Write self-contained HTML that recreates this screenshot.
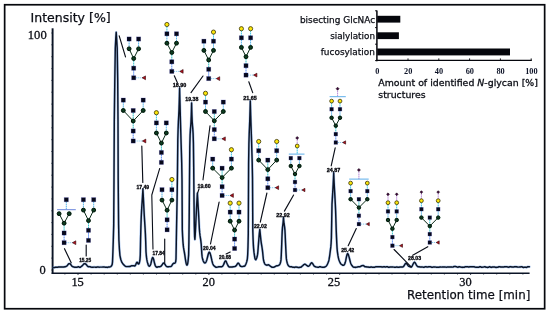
<!DOCTYPE html>
<html><head><meta charset="utf-8"><title>N-glycan chromatogram</title>
<style>html,body{margin:0;padding:0;background:#fff}body{width:550px;height:314px;overflow:hidden}svg{display:block;filter:blur(0.28px)}</style>
</head><body>
<svg width="550" height="314" viewBox="0 0 550 314">
<rect x="0" y="0" width="550" height="314" fill="#ffffff"/>
<rect x="4.65" y="4.75" width="540" height="304" fill="#ffffff" stroke="#05070c" stroke-width="1.7"/>
<line x1="52.6" y1="28.3" x2="52.6" y2="274" stroke="#0b1426" stroke-width="1.9"/>
<line x1="51.7" y1="273.3" x2="529.6" y2="273.3" stroke="#0b1426" stroke-width="1.6"/>
<path d="M64.9 273.3v1.2 M78.0 273.3v1.7 M91.1 273.3v1.2 M104.2 273.3v1.2 M117.3 273.3v1.2 M130.3 273.3v1.2 M143.4 273.3v1.2 M156.5 273.3v1.2 M169.6 273.3v1.2 M182.7 273.3v1.2 M195.8 273.3v1.2 M208.9 273.3v1.7 M221.9 273.3v1.2 M235.0 273.3v1.2 M248.1 273.3v1.2 M261.2 273.3v1.2 M274.3 273.3v1.2 M287.4 273.3v1.2 M300.4 273.3v1.2 M313.5 273.3v1.2 M326.6 273.3v1.2 M339.7 273.3v1.7 M352.8 273.3v1.2 M365.9 273.3v1.2 M379.0 273.3v1.2 M392.0 273.3v1.2 M405.1 273.3v1.2 M418.2 273.3v1.2 M431.3 273.3v1.2 M444.4 273.3v1.2 M457.5 273.3v1.2 M470.6 273.3v1.7 M483.6 273.3v1.2 M496.7 273.3v1.2 M509.8 273.3v1.2 M522.9 273.3v1.2" stroke="#0b1426" stroke-width="0.8" fill="none"/>
<path d="M52.6 270.0h-1.6 M52.6 258.1h-1.6 M52.6 246.3h-1.6 M52.6 234.4h-1.6 M52.6 222.6h-1.6 M52.6 210.8h-1.6 M52.6 198.9h-1.6 M52.6 187.1h-1.6 M52.6 175.2h-1.6 M52.6 163.3h-1.6 M52.6 151.5h-1.6 M52.6 139.7h-1.6 M52.6 127.8h-1.6 M52.6 115.9h-1.6 M52.6 104.1h-1.6 M52.6 92.2h-1.6 M52.6 80.4h-1.6 M52.6 68.6h-1.6 M52.6 56.7h-1.6 M52.6 44.8h-1.6 M52.6 33.0h-1.6" stroke="#0b1426" stroke-width="0.7" fill="none" opacity="0.7"/>
<path d="M53.6 267.6 L53.9 267.6 L54.2 267.5 L54.5 267.4 L54.8 267.4 L55.1 267.4 L55.4 267.3 L55.7 267.3 L56.0 267.2 L56.3 267.2 L56.6 267.2 L56.9 267.2 L57.2 267.3 L57.5 267.3 L57.8 267.2 L58.1 267.1 L58.4 267.0 L58.7 267.0 L59.0 267.0 L59.3 266.9 L59.6 266.9 L59.9 266.9 L60.2 266.9 L60.5 266.9 L60.8 266.9 L61.1 266.9 L61.4 266.9 L61.7 267.0 L62.0 267.0 L62.3 267.1 L62.6 267.1 L62.9 267.0 L63.2 267.0 L63.5 267.0 L63.8 267.0 L64.1 266.9 L64.4 266.9 L64.7 266.8 L65.0 266.8 L65.3 266.7 L65.6 266.6 L65.9 266.5 L66.2 266.4 L66.5 266.2 L66.8 266.0 L67.1 265.8 L67.4 265.4 L67.7 265.0 L68.0 264.6 L68.3 264.2 L68.6 263.9 L68.9 263.7 L69.2 263.6 L69.5 263.6 L69.8 263.6 L70.1 263.8 L70.4 264.1 L70.7 264.4 L71.0 264.9 L71.3 265.3 L71.6 265.7 L71.9 266.1 L72.2 266.3 L72.5 266.5 L72.8 266.7 L73.1 266.8 L73.4 266.9 L73.7 266.9 L74.0 267.0 L74.3 267.1 L74.6 267.2 L74.9 267.3 L75.2 267.3 L75.5 267.3 L75.8 267.3 L76.1 267.2 L76.4 267.2 L76.7 267.2 L77.0 267.2 L77.3 267.1 L77.6 267.0 L77.9 266.9 L78.2 266.8 L78.5 266.8 L78.8 266.9 L79.1 267.1 L79.4 267.2 L79.7 267.3 L80.0 267.4 L80.3 267.3 L80.6 267.1 L80.9 266.8 L81.2 266.5 L81.5 266.3 L81.8 266.1 L82.1 265.9 L82.4 265.6 L82.7 265.3 L83.0 264.9 L83.3 264.5 L83.6 264.2 L83.9 263.9 L84.2 263.7 L84.5 263.7 L84.8 263.7 L85.1 263.8 L85.4 263.9 L85.7 264.1 L86.0 264.3 L86.3 264.6 L86.6 265.0 L86.9 265.4 L87.2 265.8 L87.5 266.1 L87.8 266.4 L88.1 266.6 L88.4 266.6 L88.7 266.7 L89.0 266.6 L89.3 266.6 L89.6 266.6 L89.9 266.7 L90.2 266.8 L90.5 266.9 L90.8 267.1 L91.1 267.1 L91.4 267.1 L91.7 267.2 L92.0 267.2 L92.3 267.2 L92.6 267.2 L92.9 267.2 L93.2 267.2 L93.5 267.1 L93.8 267.1 L94.1 267.1 L94.4 267.1 L94.7 267.1 L95.0 267.1 L95.3 267.2 L95.6 267.3 L95.9 267.3 L96.2 267.3 L96.5 267.2 L96.8 267.1 L97.1 267.0 L97.4 266.9 L97.7 266.9 L98.0 266.9 L98.3 267.0 L98.6 267.1 L98.9 267.1 L99.2 267.2 L99.5 267.1 L99.8 267.1 L100.1 267.1 L100.4 267.1 L100.7 267.1 L101.0 267.1 L101.3 267.1 L101.6 267.1 L101.9 267.1 L102.2 267.1 L102.5 267.1 L102.8 267.0 L103.1 267.0 L103.4 267.0 L103.7 267.0 L104.0 267.0 L104.3 267.0 L104.6 267.1 L104.9 267.1 L105.2 267.2 L105.5 267.3 L105.8 267.3 L106.1 267.3 L106.4 267.3 L106.7 267.3 L107.0 267.4 L107.3 267.4 L107.6 267.3 L107.9 267.2 L108.2 267.1 L108.5 267.0 L108.8 267.0 L109.1 267.0 L109.4 267.0 L109.6 267.0 L110.7 266.6 L111.6 265.8 L112.2 264.4 L112.5 262.0 L112.9 252.0 L113.3 240.0 L113.7 225.0 L114.0 180.0 L114.3 120.0 L114.8 80.0 L115.3 48.0 L115.8 38.0 L116.2 32.3 L116.6 38.0 L117.2 48.0 L117.7 80.0 L118.0 120.0 L118.2 180.0 L118.6 225.0 L118.9 240.0 L119.4 249.0 L119.9 255.3 L120.8 259.5 L121.9 262.4 L123.3 264.4 L124.8 265.8 L126.2 266.6 L129.5 266.5 L129.8 266.6 L130.1 266.5 L130.4 266.3 L130.7 266.2 L131.0 266.0 L131.3 265.9 L131.6 265.8 L131.9 265.7 L132.2 265.8 L132.5 265.8 L132.8 265.8 L133.1 265.8 L133.4 265.8 L133.7 265.8 L134.0 265.8 L134.3 265.9 L134.6 265.9 L134.9 265.9 L135.2 265.7 L135.5 265.2 L135.8 264.6 L136.1 263.7 L136.4 263.0 L136.7 262.5 L137.0 262.2 L137.3 262.4 L137.6 262.9 L137.9 263.5 L138.2 263.9 L138.5 264.0 L138.8 263.9 L139.1 263.5 L139.4 262.6 L139.7 261.2 L140.0 259.2 L140.3 254.7 L140.6 237.9 L140.9 227.3 L141.2 218.6 L141.5 211.9 L141.8 206.7 L142.1 202.3 L142.4 197.9 L142.7 192.9 L142.7 192.9 L142.9 189.3 L143.0 191.0 L143.1 192.8 L143.3 196.5 L143.6 202.4 L143.9 208.4 L144.2 214.2 L144.5 219.3 L144.8 223.9 L145.1 228.6 L145.4 234.1 L145.7 241.7 L146.0 251.8 L146.3 255.3 L146.6 258.0 L146.9 259.9 L147.2 261.4 L147.5 262.6 L147.8 263.6 L148.1 264.5 L148.4 265.3 L148.7 265.8 L149.0 266.1 L149.3 266.2 L149.6 266.1 L149.9 265.8 L150.2 265.4 L150.5 264.8 L150.8 263.9 L151.1 262.7 L151.4 261.4 L151.7 260.1 L152.0 258.9 L152.3 258.0 L152.6 257.5 L152.9 257.6 L153.2 258.1 L153.5 258.9 L153.8 260.0 L154.1 261.3 L154.4 262.6 L154.7 263.8 L155.0 264.9 L155.3 265.6 L155.6 266.2 L155.9 266.6 L156.2 266.9 L156.5 267.1 L156.8 267.2 L157.1 267.2 L157.4 267.1 L157.7 267.0 L158.0 266.8 L158.3 266.7 L158.6 266.7 L158.9 266.7 L159.2 266.7 L159.5 266.7 L159.8 266.7 L160.1 266.6 L160.4 266.5 L160.7 266.4 L161.0 266.2 L161.3 265.9 L161.6 265.6 L161.9 265.1 L162.2 264.6 L162.5 264.2 L162.8 263.7 L163.1 263.3 L163.4 263.1 L163.7 263.0 L164.0 263.2 L164.3 263.4 L164.6 263.8 L164.9 264.2 L165.2 264.7 L165.5 265.2 L165.8 265.6 L166.1 266.0 L166.4 266.3 L166.7 266.5 L167.0 266.7 L167.3 266.7 L167.6 266.7 L167.9 266.7 L168.2 266.8 L168.5 266.7 L168.8 266.7 L169.1 266.6 L169.4 266.6 L169.7 266.6 L170.0 266.6 L170.3 266.6 L170.6 266.6 L170.9 266.5 L171.2 266.3 L171.5 266.0 L171.8 265.7 L172.1 265.2 L172.4 264.7 L172.7 264.2 L173.0 263.8 L173.3 263.5 L173.6 263.3 L173.9 263.2 L174.2 263.2 L174.5 263.2 L174.8 263.2 L175.1 263.0 L175.4 262.5 L175.7 261.6 L176.0 258.9 L176.3 242.3 L176.6 224.4 L176.9 209.4 L177.2 192.9 L177.5 170.0 L177.8 140.1 L178.1 129.0 L178.4 121.8 L178.7 116.1 L179.0 109.8 L179.3 100.6 L179.4 96.6 L179.6 88.0 L179.6 88.0 L179.8 96.3 L179.9 100.3 L180.2 111.6 L180.5 122.2 L180.8 132.7 L181.1 143.5 L181.4 152.4 L181.7 162.7 L182.0 179.4 L182.3 229.6 L182.6 236.2 L182.9 241.1 L183.2 244.7 L183.5 247.4 L183.8 249.3 L184.1 250.9 L184.4 252.5 L184.7 254.3 L185.0 256.4 L185.3 258.5 L185.6 260.4 L185.9 262.1 L186.2 263.5 L186.5 264.5 L186.8 265.1 L187.1 265.1 L187.4 264.6 L187.7 263.5 L188.0 261.6 L188.3 258.8 L188.6 255.2 L188.9 241.4 L189.2 216.7 L189.5 180.4 L189.8 147.1 L190.1 135.3 L190.4 129.9 L190.7 126.3 L191.0 122.1 L191.3 114.8 L191.4 111.2 L191.6 102.9 L191.6 102.9 L191.8 111.0 L191.9 114.6 L192.2 121.6 L192.5 125.6 L192.8 128.9 L193.1 133.7 L193.4 143.1 L193.7 167.4 L194.0 200.2 L194.3 225.6 L194.6 236.8 L194.9 239.5 L195.2 235.4 L195.5 229.8 L195.8 223.4 L196.1 216.7 L196.4 210.7 L196.7 205.0 L197.0 199.6 L197.2 196.3 L197.3 194.7 L197.4 193.2 L197.6 197.0 L197.6 197.0 L197.9 202.4 L198.2 207.4 L198.5 212.4 L198.8 217.7 L199.1 223.9 L199.4 229.4 L199.7 232.9 L200.0 235.4 L200.3 237.4 L200.6 239.2 L200.9 241.3 L201.2 244.0 L201.5 248.5 L201.8 253.6 L202.1 256.4 L202.4 258.0 L202.7 259.3 L203.0 260.3 L203.3 261.1 L203.6 261.7 L203.9 262.2 L204.2 262.6 L204.5 262.8 L204.8 263.0 L205.1 262.9 L205.4 262.8 L205.7 262.5 L206.0 262.0 L206.3 261.3 L206.6 260.5 L206.9 259.5 L207.2 258.4 L207.5 257.2 L207.8 256.0 L208.1 254.8 L208.4 253.8 L208.7 252.9 L209.0 252.4 L209.3 252.2 L209.6 252.4 L209.9 252.9 L210.2 253.6 L210.5 254.6 L210.8 255.7 L211.1 257.0 L211.4 258.3 L211.7 259.7 L212.0 261.0 L212.3 262.1 L212.6 263.2 L212.9 264.0 L213.2 264.7 L213.5 265.2 L213.8 265.6 L214.1 265.8 L214.4 266.1 L214.7 266.3 L215.0 266.6 L215.3 266.9 L215.6 267.1 L215.9 267.2 L216.2 267.3 L216.5 267.2 L216.8 267.2 L217.1 267.1 L217.4 267.1 L217.7 267.1 L218.0 267.0 L218.3 266.9 L218.6 266.8 L218.9 266.8 L219.2 266.7 L219.5 266.7 L219.8 266.7 L220.1 266.8 L220.4 266.8 L220.7 266.8 L221.0 266.8 L221.3 266.8 L221.6 266.7 L221.9 266.6 L222.2 266.5 L222.5 266.3 L222.8 266.0 L223.1 265.5 L223.4 265.0 L223.7 264.4 L224.0 263.6 L224.3 262.9 L224.6 262.1 L224.9 261.5 L225.2 261.1 L225.5 260.9 L225.8 261.0 L226.1 261.4 L226.4 262.0 L226.7 262.8 L227.0 263.5 L227.3 264.2 L227.6 264.8 L227.9 265.4 L228.2 266.0 L228.5 266.4 L228.8 266.7 L229.1 266.9 L229.4 267.0 L229.7 267.0 L230.0 266.9 L230.3 266.9 L230.6 266.9 L230.9 267.0 L231.2 267.0 L231.5 267.0 L231.8 267.0 L232.1 267.0 L232.4 266.9 L232.7 266.9 L233.0 266.8 L233.3 266.7 L233.6 266.7 L233.9 266.7 L234.2 266.6 L234.5 266.6 L234.8 266.6 L235.1 266.5 L235.4 266.3 L235.7 266.1 L236.0 265.9 L236.3 265.6 L236.6 265.1 L236.9 264.6 L237.2 264.1 L237.5 263.6 L237.8 263.3 L238.1 263.1 L238.4 263.1 L238.7 263.4 L239.0 263.8 L239.3 264.4 L239.6 264.9 L239.9 265.5 L240.2 265.9 L240.5 266.2 L240.8 266.3 L241.1 266.4 L241.4 266.5 L241.7 266.6 L242.0 266.6 L242.3 266.6 L242.6 266.6 L242.9 266.5 L243.2 266.4 L243.5 266.3 L243.8 266.3 L244.1 266.3 L244.4 266.2 L244.7 266.1 L245.0 265.7 L245.3 265.3 L245.6 264.7 L245.9 264.0 L246.2 263.3 L246.5 262.4 L246.8 261.4 L247.1 260.3 L247.4 258.5 L247.7 254.5 L248.0 246.7 L248.3 233.2 L248.6 163.6 L248.9 144.3 L249.2 133.9 L249.5 126.7 L249.8 119.1 L250.1 108.7 L250.1 108.7 L250.3 100.9 L250.4 104.7 L250.5 108.5 L250.7 115.7 L251.0 124.8 L251.3 133.2 L251.6 142.0 L251.9 152.4 L252.2 162.2 L252.5 177.8 L252.8 230.5 L253.1 239.5 L253.4 245.7 L253.7 249.7 L254.0 252.4 L254.3 254.4 L254.6 256.5 L254.9 258.2 L255.2 259.1 L255.5 259.6 L255.8 259.7 L256.1 259.3 L256.4 258.7 L256.7 258.0 L257.0 257.1 L257.3 255.8 L257.6 254.2 L257.9 251.4 L258.2 247.5 L258.5 243.6 L258.8 239.8 L259.1 236.1 L259.4 232.9 L259.6 231.0 L259.7 230.2 L259.8 229.4 L260.0 231.4 L260.0 231.4 L260.3 234.3 L260.6 237.3 L260.9 240.1 L261.2 242.4 L261.5 244.4 L261.8 246.2 L262.1 248.0 L262.4 250.1 L262.7 252.7 L263.0 255.7 L263.3 258.5 L263.6 260.5 L263.9 261.6 L264.2 262.6 L264.5 263.3 L264.8 263.9 L265.1 264.3 L265.4 264.6 L265.7 264.7 L266.0 264.9 L266.3 265.0 L266.6 265.1 L266.9 265.2 L267.2 265.1 L267.5 265.1 L267.8 264.9 L268.1 264.8 L268.4 264.8 L268.7 264.9 L269.0 265.1 L269.3 265.3 L269.6 265.6 L269.9 265.8 L270.2 266.0 L270.5 266.2 L270.8 266.5 L271.1 266.7 L271.4 266.9 L271.7 267.1 L272.0 267.2 L272.3 267.2 L272.6 267.3 L272.9 267.3 L273.2 267.3 L273.5 267.3 L273.8 267.2 L274.1 267.1 L274.4 267.0 L274.7 266.8 L275.0 266.7 L275.3 266.5 L275.6 266.3 L275.9 266.1 L276.2 266.0 L276.5 265.8 L276.8 265.8 L277.1 265.7 L277.4 265.7 L277.7 265.7 L278.0 265.6 L278.3 265.5 L278.6 265.4 L278.9 265.2 L279.2 265.0 L279.5 264.7 L279.8 264.3 L280.1 263.7 L280.4 262.8 L280.7 261.5 L281.0 259.9 L281.3 254.7 L281.6 247.0 L281.9 238.9 L282.2 231.4 L282.5 227.4 L282.8 225.0 L283.1 222.5 L283.3 220.3 L283.4 218.9 L283.5 217.5 L283.7 220.3 L283.7 220.3 L284.0 223.2 L284.3 225.1 L284.6 227.0 L284.9 229.8 L285.2 235.3 L285.5 242.6 L285.8 248.8 L286.1 254.6 L286.4 258.9 L286.7 260.7 L287.0 262.1 L287.3 263.2 L287.6 264.1 L287.9 264.8 L288.2 265.3 L288.5 265.7 L288.8 266.0 L289.1 266.3 L289.4 266.5 L289.7 266.6 L290.0 266.7 L290.3 266.8 L290.6 266.8 L290.9 266.8 L291.2 266.8 L291.5 266.8 L291.8 266.9 L292.1 267.0 L292.4 267.1 L292.7 267.2 L293.0 267.2 L293.3 267.2 L293.6 267.3 L293.9 267.3 L294.2 267.4 L294.5 267.4 L294.8 267.3 L295.1 267.2 L295.4 267.1 L295.7 267.0 L296.0 267.0 L296.3 267.0 L296.6 267.1 L296.9 267.2 L297.2 267.3 L297.5 267.3 L297.8 267.4 L298.1 267.4 L298.4 267.4 L298.7 267.4 L299.0 267.4 L299.3 267.4 L299.6 267.4 L299.9 267.3 L300.2 267.3 L300.5 267.3 L300.8 267.2 L301.1 267.1 L301.4 266.9 L301.7 266.6 L302.0 266.3 L302.3 266.0 L302.6 265.8 L302.9 265.5 L303.2 265.2 L303.5 264.9 L303.8 264.7 L304.1 264.5 L304.4 264.3 L304.7 264.3 L305.0 264.3 L305.3 264.4 L305.6 264.5 L305.9 264.8 L306.2 265.0 L306.5 265.2 L306.8 265.5 L307.1 265.7 L307.4 265.9 L307.7 266.1 L308.0 266.2 L308.3 266.2 L308.6 266.2 L308.9 266.0 L309.2 265.8 L309.5 265.5 L309.8 265.2 L310.1 264.7 L310.4 264.2 L310.7 263.6 L311.0 263.2 L311.3 262.9 L311.6 262.8 L311.9 262.9 L312.2 263.1 L312.5 263.4 L312.8 263.9 L313.1 264.4 L313.4 264.9 L313.7 265.4 L314.0 265.8 L314.3 266.2 L314.6 266.4 L314.9 266.5 L315.2 266.7 L315.5 266.8 L315.8 266.9 L316.1 267.0 L316.4 267.1 L316.7 267.1 L317.0 267.1 L317.3 267.1 L317.6 267.2 L317.9 267.2 L318.2 267.2 L318.5 267.2 L318.8 267.2 L319.1 267.0 L319.4 266.8 L319.7 266.7 L320.0 266.7 L320.3 266.7 L320.6 266.8 L320.9 266.9 L321.2 267.1 L321.5 267.1 L321.8 267.1 L322.1 267.2 L322.4 267.2 L322.7 267.3 L323.0 267.3 L323.3 267.3 L323.6 267.3 L323.9 267.3 L324.2 267.2 L324.5 267.1 L324.8 267.0 L325.1 266.8 L325.4 266.7 L325.7 266.5 L326.0 266.3 L326.3 266.0 L326.6 265.6 L326.9 265.1 L327.2 264.6 L327.5 264.0 L327.8 263.3 L328.1 262.6 L328.4 261.8 L328.7 260.9 L329.0 259.7 L329.3 258.1 L329.6 256.2 L329.9 254.0 L330.2 251.7 L330.5 249.3 L330.8 246.9 L331.1 243.5 L331.4 237.8 L331.7 221.6 L332.0 204.4 L332.3 199.3 L332.6 194.2 L332.9 189.1 L333.2 184.0 L333.5 177.7 L333.5 177.7 L333.7 172.7 L333.8 175.3 L333.9 177.8 L334.1 182.3 L334.4 187.8 L334.7 192.9 L335.0 198.4 L335.3 204.1 L335.6 210.7 L335.9 219.9 L336.2 229.8 L336.5 237.1 L336.8 243.6 L337.1 248.7 L337.4 251.7 L337.7 253.8 L338.0 255.7 L338.3 257.3 L338.6 258.6 L338.9 259.7 L339.2 260.6 L339.5 261.3 L339.8 262.0 L340.1 262.6 L340.4 263.2 L340.7 263.6 L341.0 264.0 L341.3 264.3 L341.6 264.5 L341.9 264.7 L342.2 264.9 L342.5 265.1 L342.8 265.3 L343.1 265.3 L343.4 265.3 L343.7 265.1 L344.0 265.0 L344.3 264.7 L344.6 264.2 L344.9 263.5 L345.2 262.6 L345.5 261.5 L345.8 260.2 L346.1 258.7 L346.4 257.2 L346.7 255.9 L347.0 254.7 L347.3 253.9 L347.6 253.6 L347.9 253.8 L348.2 254.4 L348.5 255.1 L348.8 256.1 L349.1 257.1 L349.4 258.3 L349.7 259.5 L350.0 260.7 L350.3 261.8 L350.6 262.9 L350.9 263.7 L351.2 264.3 L351.5 264.9 L351.8 265.3 L352.1 265.7 L352.4 266.1 L352.7 266.4 L353.0 266.8 L353.3 267.0 L353.6 267.1 L353.9 267.2 L354.2 267.2 L354.5 267.3 L354.8 267.3 L355.1 267.4 L355.4 267.4 L355.7 267.3 L356.0 267.3 L356.3 267.2 L356.6 267.1 L356.9 267.1 L357.2 267.1 L357.5 267.0 L357.8 266.9 L358.1 266.8 L358.4 266.8 L358.7 266.8 L359.0 266.8 L359.3 266.8 L359.6 266.8 L359.9 266.7 L360.2 266.6 L360.5 266.5 L360.8 266.3 L361.1 266.1 L361.4 265.9 L361.7 265.8 L362.0 265.7 L362.3 265.6 L362.6 265.6 L362.9 265.5 L363.2 265.5 L363.5 265.6 L363.8 265.8 L364.1 266.1 L364.4 266.4 L364.7 266.6 L365.0 266.7 L365.3 266.7 L365.6 266.8 L365.9 266.8 L366.2 266.8 L366.5 266.9 L366.8 266.9 L367.1 266.9 L367.4 267.0 L367.7 267.0 L368.0 267.0 L368.3 267.0 L368.6 267.1 L368.9 267.2 L369.2 267.3 L369.5 267.3 L369.8 267.3 L370.1 267.3 L370.4 267.1 L370.7 267.0 L371.0 267.0 L371.3 267.0 L371.6 267.0 L371.9 267.1 L372.2 267.2 L372.5 267.3 L372.8 267.3 L373.1 267.3 L373.4 267.3 L373.7 267.3 L374.0 267.3 L374.3 267.3 L374.6 267.2 L374.9 267.1 L375.2 267.0 L375.5 266.9 L375.8 266.8 L376.1 266.8 L376.4 266.8 L376.7 266.8 L377.0 266.8 L377.3 266.8 L377.6 266.8 L377.9 266.8 L378.2 266.8 L378.5 266.8 L378.8 266.8 L379.1 266.8 L379.4 266.8 L379.7 266.8 L380.0 266.8 L380.3 266.8 L380.6 266.8 L380.9 266.8 L381.2 266.8 L381.5 266.9 L381.8 267.0 L382.1 267.0 L382.4 267.1 L382.7 267.0 L383.0 267.0 L383.3 266.9 L383.6 266.8 L383.9 266.8 L384.2 266.8 L384.5 266.8 L384.8 266.9 L385.1 266.9 L385.4 266.9 L385.7 266.9 L386.0 266.9 L386.3 266.8 L386.6 266.8 L386.9 266.7 L387.2 266.7 L387.5 266.8 L387.8 266.9 L388.1 267.1 L388.4 267.2 L388.7 267.3 L389.0 267.3 L389.3 267.2 L389.6 267.1 L389.9 267.0 L390.2 266.9 L390.5 266.9 L390.8 266.9 L391.1 266.9 L391.4 266.9 L391.7 267.0 L392.0 267.0 L392.3 267.0 L392.6 267.0 L392.9 267.0 L393.2 267.1 L393.5 267.1 L393.8 267.1 L394.1 267.1 L394.4 267.2 L394.7 267.3 L395.0 267.3 L395.3 267.3 L395.6 267.3 L395.9 267.2 L396.2 267.1 L396.5 267.0 L396.8 266.9 L397.1 267.0 L397.4 267.1 L397.7 267.2 L398.0 267.3 L398.3 267.3 L398.6 267.3 L398.9 267.3 L399.2 267.2 L399.5 267.1 L399.8 267.0 L400.1 267.0 L400.4 267.0 L400.7 267.0 L401.0 267.0 L401.3 267.0 L401.6 267.0 L401.9 267.0 L402.2 267.0 L402.5 266.9 L402.8 266.9 L403.1 266.8 L403.4 266.6 L403.7 266.3 L404.0 265.8 L404.3 265.3 L404.6 264.8 L404.9 264.3 L405.2 263.8 L405.5 263.5 L405.8 263.3 L406.1 263.3 L406.4 263.4 L406.7 263.7 L407.0 264.1 L407.3 264.5 L407.6 264.9 L407.9 265.4 L408.2 265.8 L408.5 266.1 L408.8 266.3 L409.1 266.4 L409.4 266.5 L409.7 266.5 L410.0 266.7 L410.3 266.8 L410.6 267.0 L410.9 267.1 L411.2 267.1 L411.5 266.9 L411.8 266.5 L412.1 266.1 L412.4 265.5 L412.7 264.9 L413.0 264.3 L413.3 263.7 L413.6 263.2 L413.9 262.7 L414.2 262.4 L414.5 262.3 L414.8 262.4 L415.1 262.7 L415.4 263.2 L415.7 263.7 L416.0 264.3 L416.3 264.9 L416.6 265.4 L416.9 265.8 L417.2 266.1 L417.5 266.4 L417.8 266.6 L418.1 266.7 L418.4 266.8 L418.7 266.8 L419.0 266.8 L419.3 266.8 L419.6 266.9 L419.9 266.9 L420.2 267.0 L420.5 267.0 L420.8 267.0 L421.1 267.0 L421.4 267.0 L421.7 267.0 L422.0 267.0 L422.3 267.0 L422.6 267.1 L422.9 267.1 L423.2 267.1 L423.5 267.2 L423.8 267.2 L424.1 267.2 L424.4 267.1 L424.7 267.0 L425.0 266.9 L425.3 266.7 L425.6 266.7 L425.9 266.7 L426.2 266.8 L426.5 266.9 L426.8 267.0 L427.1 267.0 L427.4 267.0 L427.7 267.0 L428.0 266.9 L428.3 266.9 L428.6 266.8 L428.9 266.8 L429.2 266.8 L429.5 266.8 L429.8 266.8 L430.1 266.8 L430.4 266.8 L430.7 266.9 L431.0 266.9 L431.3 267.1 L431.6 267.2 L431.9 267.2 L432.2 267.2 L432.5 267.2 L432.8 267.1 L433.1 267.1 L433.4 267.0 L433.7 267.0 L434.0 267.0 L434.3 267.0 L434.6 267.0 L434.9 267.0 L435.2 267.0 L435.5 267.1 L435.8 267.1 L436.1 267.1 L436.4 267.2 L436.7 267.2 L437.0 267.2 L437.3 267.2 L437.6 267.3 L437.9 267.3 L438.2 267.3 L438.5 267.3 L438.8 267.3 L439.1 267.2 L439.4 267.1 L439.7 267.0 L440.0 267.0 L440.3 267.0 L440.6 267.0 L440.9 267.0 L441.2 267.1 L441.5 267.1 L441.8 267.1 L442.1 267.1 L442.4 267.0 L442.7 267.0 L443.0 267.0 L443.3 267.0 L443.6 267.0 L443.9 267.0 L444.2 267.0 L444.5 267.0 L444.8 267.0 L445.1 267.0 L445.4 267.1 L445.7 267.1 L446.0 267.1 L446.3 267.2 L446.6 267.1 L446.9 267.1 L447.2 267.1 L447.5 267.0 L447.8 267.0 L448.1 267.0 L448.4 267.0 L448.7 267.0 L449.0 267.0 L449.3 267.0 L449.6 267.0 L449.9 267.0 L450.2 267.0 L450.5 267.0 L450.8 267.0 L451.1 267.0 L451.4 267.0 L451.7 267.0 L452.0 267.1 L452.3 267.1 L452.6 267.1 L452.9 267.1 L453.2 266.9 L453.5 266.8 L453.8 266.6 L454.1 266.5 L454.4 266.4 L454.7 266.4 L455.0 266.4 L455.3 266.5 L455.6 266.5 L455.9 266.6 L456.2 266.7 L456.5 266.8 L456.8 266.9 L457.1 267.0 L457.4 267.1 L457.7 267.2 L458.0 267.2 L458.3 267.1 L458.6 266.9 L458.9 266.8 L459.2 266.8 L459.5 266.8 L459.8 266.9 L460.1 266.9 L460.4 267.0 L460.7 267.0 L461.0 267.1 L461.3 267.1 L461.6 267.2 L461.9 267.3 L462.2 267.3 L462.5 267.4 L462.8 267.3 L463.1 267.3 L463.4 267.3 L463.7 267.3 L464.0 267.3 L464.3 267.2 L464.6 267.1 L464.9 266.9 L465.2 266.8 L465.5 266.7 L465.8 266.7 L466.1 266.7 L466.4 266.7 L466.7 266.7 L467.0 266.7 L467.3 266.7 L467.6 266.7 L467.9 266.8 L468.2 266.9 L468.5 266.9 L468.8 267.0 L469.1 266.9 L469.4 266.9 L469.7 266.8 L470.0 266.7 L470.3 266.7 L470.6 266.7 L470.9 266.7 L471.2 266.7 L471.5 266.8 L471.8 266.8 L472.1 266.8 L472.4 266.8 L472.7 266.7 L473.0 266.7 L473.3 266.7 L473.6 266.7 L473.9 266.7 L474.2 266.8 L474.5 266.9 L474.8 267.1 L475.1 267.1 L475.4 267.1 L475.7 267.2 L476.0 267.2 L476.3 267.2 L476.6 267.2 L476.9 267.2 L477.2 267.2 L477.5 267.3 L477.8 267.3 L478.1 267.3 L478.4 267.3 L478.7 267.3 L479.0 267.1 L479.3 267.0 L479.6 266.8 L479.9 266.7 L480.2 266.7 L480.5 266.8 L480.8 266.9 L481.1 267.1 L481.4 267.2 L481.7 267.2 L482.0 267.2 L482.3 267.2 L482.6 267.1 L482.9 267.1 L483.2 267.1 L483.5 267.1 L483.8 267.0 L484.1 266.9 L484.4 266.8 L484.7 266.7 L485.0 266.7 L485.3 266.9 L485.6 267.0 L485.9 267.2 L486.2 267.3 L486.5 267.3 L486.8 267.3 L487.1 267.3 L487.4 267.4 L487.7 267.4 L488.0 267.4 L488.3 267.3 L488.6 267.2 L488.9 267.0 L489.2 266.9 L489.5 266.8 L489.8 266.8 L490.1 266.9 L490.4 267.1 L490.7 267.2 L491.0 267.3 L491.3 267.4 L491.6 267.3 L491.9 267.2 L492.2 267.1 L492.5 267.0 L492.8 266.9 L493.1 266.9 L493.4 266.9 L493.7 267.0 L494.0 267.0 L494.3 267.0 L494.6 267.0 L494.9 267.1 L495.2 267.2 L495.5 267.3 L495.8 267.4 L496.1 267.4 L496.4 267.4 L496.7 267.3 L497.0 267.3 L497.3 267.3 L497.6 267.3 L497.9 267.2 L498.2 267.1 L498.5 266.9 L498.8 266.8 L499.1 266.7 L499.4 266.7 L499.7 266.8 L500.0 266.8 L500.3 266.9 L500.6 266.9 L500.9 266.9 L501.2 267.0 L501.5 267.0 L501.8 267.0 L502.1 267.0 L502.4 267.0 L502.7 267.0 L503.0 267.0 L503.3 266.9 L503.6 266.9 L503.9 266.9 L504.2 266.9 L504.5 266.8 L504.8 266.8 L505.1 266.8 L505.4 266.8 L505.7 266.8 L506.0 266.8 L506.3 266.8 L506.6 266.8 L506.9 266.8 L507.2 266.9 L507.5 266.9 L507.8 267.0 L508.1 267.0 L508.4 267.1 L508.7 267.2 L509.0 267.2 L509.3 267.0 L509.6 266.9 L509.9 266.7 L510.2 266.6 L510.5 266.6 L510.8 266.7 L511.1 266.8 L511.4 266.9 L511.7 267.0 L512.0 267.0 L512.3 267.0 L512.6 267.0 L512.9 267.0 L513.2 267.0 L513.5 267.0 L513.8 266.9 L514.1 266.9 L514.4 266.8 L514.7 266.7 L515.0 266.6 L515.3 266.6 L515.6 266.7 L515.9 266.7 L516.2 266.8 L516.5 266.8 L516.8 266.9 L517.1 266.9 L517.4 266.9 L517.7 267.0 L518.0 267.1 L518.3 267.1 L518.6 267.1 L518.9 267.1 L519.2 267.1 L519.5 267.0 L519.8 267.0 L520.1 267.0 L520.4 267.0 L520.7 266.9 L521.0 266.8 L521.3 266.7 L521.6 266.7 L521.9 266.7 L522.2 266.9 L522.5 267.1 L522.8 267.3 L523.1 267.4 L523.4 267.4 L523.7 267.4 L524.0 267.3 L524.3 267.3 L524.6 267.2 L524.9 267.2 L525.2 267.3 L525.5 267.3 L525.8 267.3 L526.1 267.4 L526.4 267.4 L526.7 267.3 L527.0 267.2 L527.3 267.0 L527.6 266.8 L527.9 266.7 L528.2 266.7 L528.5 266.7 L528.8 266.7 L529.1 266.8 L529.4 266.8" fill="none" stroke="#4a86dc" stroke-width="2.5" stroke-linejoin="round" stroke-linecap="round" opacity="0.45"/>
<path d="M53.6 267.6 L53.9 267.6 L54.2 267.5 L54.5 267.4 L54.8 267.4 L55.1 267.4 L55.4 267.3 L55.7 267.3 L56.0 267.2 L56.3 267.2 L56.6 267.2 L56.9 267.2 L57.2 267.3 L57.5 267.3 L57.8 267.2 L58.1 267.1 L58.4 267.0 L58.7 267.0 L59.0 267.0 L59.3 266.9 L59.6 266.9 L59.9 266.9 L60.2 266.9 L60.5 266.9 L60.8 266.9 L61.1 266.9 L61.4 266.9 L61.7 267.0 L62.0 267.0 L62.3 267.1 L62.6 267.1 L62.9 267.0 L63.2 267.0 L63.5 267.0 L63.8 267.0 L64.1 266.9 L64.4 266.9 L64.7 266.8 L65.0 266.8 L65.3 266.7 L65.6 266.6 L65.9 266.5 L66.2 266.4 L66.5 266.2 L66.8 266.0 L67.1 265.8 L67.4 265.4 L67.7 265.0 L68.0 264.6 L68.3 264.2 L68.6 263.9 L68.9 263.7 L69.2 263.6 L69.5 263.6 L69.8 263.6 L70.1 263.8 L70.4 264.1 L70.7 264.4 L71.0 264.9 L71.3 265.3 L71.6 265.7 L71.9 266.1 L72.2 266.3 L72.5 266.5 L72.8 266.7 L73.1 266.8 L73.4 266.9 L73.7 266.9 L74.0 267.0 L74.3 267.1 L74.6 267.2 L74.9 267.3 L75.2 267.3 L75.5 267.3 L75.8 267.3 L76.1 267.2 L76.4 267.2 L76.7 267.2 L77.0 267.2 L77.3 267.1 L77.6 267.0 L77.9 266.9 L78.2 266.8 L78.5 266.8 L78.8 266.9 L79.1 267.1 L79.4 267.2 L79.7 267.3 L80.0 267.4 L80.3 267.3 L80.6 267.1 L80.9 266.8 L81.2 266.5 L81.5 266.3 L81.8 266.1 L82.1 265.9 L82.4 265.6 L82.7 265.3 L83.0 264.9 L83.3 264.5 L83.6 264.2 L83.9 263.9 L84.2 263.7 L84.5 263.7 L84.8 263.7 L85.1 263.8 L85.4 263.9 L85.7 264.1 L86.0 264.3 L86.3 264.6 L86.6 265.0 L86.9 265.4 L87.2 265.8 L87.5 266.1 L87.8 266.4 L88.1 266.6 L88.4 266.6 L88.7 266.7 L89.0 266.6 L89.3 266.6 L89.6 266.6 L89.9 266.7 L90.2 266.8 L90.5 266.9 L90.8 267.1 L91.1 267.1 L91.4 267.1 L91.7 267.2 L92.0 267.2 L92.3 267.2 L92.6 267.2 L92.9 267.2 L93.2 267.2 L93.5 267.1 L93.8 267.1 L94.1 267.1 L94.4 267.1 L94.7 267.1 L95.0 267.1 L95.3 267.2 L95.6 267.3 L95.9 267.3 L96.2 267.3 L96.5 267.2 L96.8 267.1 L97.1 267.0 L97.4 266.9 L97.7 266.9 L98.0 266.9 L98.3 267.0 L98.6 267.1 L98.9 267.1 L99.2 267.2 L99.5 267.1 L99.8 267.1 L100.1 267.1 L100.4 267.1 L100.7 267.1 L101.0 267.1 L101.3 267.1 L101.6 267.1 L101.9 267.1 L102.2 267.1 L102.5 267.1 L102.8 267.0 L103.1 267.0 L103.4 267.0 L103.7 267.0 L104.0 267.0 L104.3 267.0 L104.6 267.1 L104.9 267.1 L105.2 267.2 L105.5 267.3 L105.8 267.3 L106.1 267.3 L106.4 267.3 L106.7 267.3 L107.0 267.4 L107.3 267.4 L107.6 267.3 L107.9 267.2 L108.2 267.1 L108.5 267.0 L108.8 267.0 L109.1 267.0 L109.4 267.0 L109.6 267.0 L110.7 266.6 L111.6 265.8 L112.2 264.4 L112.5 262.0 L112.9 252.0 L113.3 240.0 L113.7 225.0 L114.0 180.0 L114.3 120.0 L114.8 80.0 L115.3 48.0 L115.8 38.0 L116.2 32.3 L116.6 38.0 L117.2 48.0 L117.7 80.0 L118.0 120.0 L118.2 180.0 L118.6 225.0 L118.9 240.0 L119.4 249.0 L119.9 255.3 L120.8 259.5 L121.9 262.4 L123.3 264.4 L124.8 265.8 L126.2 266.6 L129.5 266.5 L129.8 266.6 L130.1 266.5 L130.4 266.3 L130.7 266.2 L131.0 266.0 L131.3 265.9 L131.6 265.8 L131.9 265.7 L132.2 265.8 L132.5 265.8 L132.8 265.8 L133.1 265.8 L133.4 265.8 L133.7 265.8 L134.0 265.8 L134.3 265.9 L134.6 265.9 L134.9 265.9 L135.2 265.7 L135.5 265.2 L135.8 264.6 L136.1 263.7 L136.4 263.0 L136.7 262.5 L137.0 262.2 L137.3 262.4 L137.6 262.9 L137.9 263.5 L138.2 263.9 L138.5 264.0 L138.8 263.9 L139.1 263.5 L139.4 262.6 L139.7 261.2 L140.0 259.2 L140.3 254.7 L140.6 237.9 L140.9 227.3 L141.2 218.6 L141.5 211.9 L141.8 206.7 L142.1 202.3 L142.4 197.9 L142.7 192.9 L142.7 192.9 L142.9 189.3 L143.0 191.0 L143.1 192.8 L143.3 196.5 L143.6 202.4 L143.9 208.4 L144.2 214.2 L144.5 219.3 L144.8 223.9 L145.1 228.6 L145.4 234.1 L145.7 241.7 L146.0 251.8 L146.3 255.3 L146.6 258.0 L146.9 259.9 L147.2 261.4 L147.5 262.6 L147.8 263.6 L148.1 264.5 L148.4 265.3 L148.7 265.8 L149.0 266.1 L149.3 266.2 L149.6 266.1 L149.9 265.8 L150.2 265.4 L150.5 264.8 L150.8 263.9 L151.1 262.7 L151.4 261.4 L151.7 260.1 L152.0 258.9 L152.3 258.0 L152.6 257.5 L152.9 257.6 L153.2 258.1 L153.5 258.9 L153.8 260.0 L154.1 261.3 L154.4 262.6 L154.7 263.8 L155.0 264.9 L155.3 265.6 L155.6 266.2 L155.9 266.6 L156.2 266.9 L156.5 267.1 L156.8 267.2 L157.1 267.2 L157.4 267.1 L157.7 267.0 L158.0 266.8 L158.3 266.7 L158.6 266.7 L158.9 266.7 L159.2 266.7 L159.5 266.7 L159.8 266.7 L160.1 266.6 L160.4 266.5 L160.7 266.4 L161.0 266.2 L161.3 265.9 L161.6 265.6 L161.9 265.1 L162.2 264.6 L162.5 264.2 L162.8 263.7 L163.1 263.3 L163.4 263.1 L163.7 263.0 L164.0 263.2 L164.3 263.4 L164.6 263.8 L164.9 264.2 L165.2 264.7 L165.5 265.2 L165.8 265.6 L166.1 266.0 L166.4 266.3 L166.7 266.5 L167.0 266.7 L167.3 266.7 L167.6 266.7 L167.9 266.7 L168.2 266.8 L168.5 266.7 L168.8 266.7 L169.1 266.6 L169.4 266.6 L169.7 266.6 L170.0 266.6 L170.3 266.6 L170.6 266.6 L170.9 266.5 L171.2 266.3 L171.5 266.0 L171.8 265.7 L172.1 265.2 L172.4 264.7 L172.7 264.2 L173.0 263.8 L173.3 263.5 L173.6 263.3 L173.9 263.2 L174.2 263.2 L174.5 263.2 L174.8 263.2 L175.1 263.0 L175.4 262.5 L175.7 261.6 L176.0 258.9 L176.3 242.3 L176.6 224.4 L176.9 209.4 L177.2 192.9 L177.5 170.0 L177.8 140.1 L178.1 129.0 L178.4 121.8 L178.7 116.1 L179.0 109.8 L179.3 100.6 L179.4 96.6 L179.6 88.0 L179.6 88.0 L179.8 96.3 L179.9 100.3 L180.2 111.6 L180.5 122.2 L180.8 132.7 L181.1 143.5 L181.4 152.4 L181.7 162.7 L182.0 179.4 L182.3 229.6 L182.6 236.2 L182.9 241.1 L183.2 244.7 L183.5 247.4 L183.8 249.3 L184.1 250.9 L184.4 252.5 L184.7 254.3 L185.0 256.4 L185.3 258.5 L185.6 260.4 L185.9 262.1 L186.2 263.5 L186.5 264.5 L186.8 265.1 L187.1 265.1 L187.4 264.6 L187.7 263.5 L188.0 261.6 L188.3 258.8 L188.6 255.2 L188.9 241.4 L189.2 216.7 L189.5 180.4 L189.8 147.1 L190.1 135.3 L190.4 129.9 L190.7 126.3 L191.0 122.1 L191.3 114.8 L191.4 111.2 L191.6 102.9 L191.6 102.9 L191.8 111.0 L191.9 114.6 L192.2 121.6 L192.5 125.6 L192.8 128.9 L193.1 133.7 L193.4 143.1 L193.7 167.4 L194.0 200.2 L194.3 225.6 L194.6 236.8 L194.9 239.5 L195.2 235.4 L195.5 229.8 L195.8 223.4 L196.1 216.7 L196.4 210.7 L196.7 205.0 L197.0 199.6 L197.2 196.3 L197.3 194.7 L197.4 193.2 L197.6 197.0 L197.6 197.0 L197.9 202.4 L198.2 207.4 L198.5 212.4 L198.8 217.7 L199.1 223.9 L199.4 229.4 L199.7 232.9 L200.0 235.4 L200.3 237.4 L200.6 239.2 L200.9 241.3 L201.2 244.0 L201.5 248.5 L201.8 253.6 L202.1 256.4 L202.4 258.0 L202.7 259.3 L203.0 260.3 L203.3 261.1 L203.6 261.7 L203.9 262.2 L204.2 262.6 L204.5 262.8 L204.8 263.0 L205.1 262.9 L205.4 262.8 L205.7 262.5 L206.0 262.0 L206.3 261.3 L206.6 260.5 L206.9 259.5 L207.2 258.4 L207.5 257.2 L207.8 256.0 L208.1 254.8 L208.4 253.8 L208.7 252.9 L209.0 252.4 L209.3 252.2 L209.6 252.4 L209.9 252.9 L210.2 253.6 L210.5 254.6 L210.8 255.7 L211.1 257.0 L211.4 258.3 L211.7 259.7 L212.0 261.0 L212.3 262.1 L212.6 263.2 L212.9 264.0 L213.2 264.7 L213.5 265.2 L213.8 265.6 L214.1 265.8 L214.4 266.1 L214.7 266.3 L215.0 266.6 L215.3 266.9 L215.6 267.1 L215.9 267.2 L216.2 267.3 L216.5 267.2 L216.8 267.2 L217.1 267.1 L217.4 267.1 L217.7 267.1 L218.0 267.0 L218.3 266.9 L218.6 266.8 L218.9 266.8 L219.2 266.7 L219.5 266.7 L219.8 266.7 L220.1 266.8 L220.4 266.8 L220.7 266.8 L221.0 266.8 L221.3 266.8 L221.6 266.7 L221.9 266.6 L222.2 266.5 L222.5 266.3 L222.8 266.0 L223.1 265.5 L223.4 265.0 L223.7 264.4 L224.0 263.6 L224.3 262.9 L224.6 262.1 L224.9 261.5 L225.2 261.1 L225.5 260.9 L225.8 261.0 L226.1 261.4 L226.4 262.0 L226.7 262.8 L227.0 263.5 L227.3 264.2 L227.6 264.8 L227.9 265.4 L228.2 266.0 L228.5 266.4 L228.8 266.7 L229.1 266.9 L229.4 267.0 L229.7 267.0 L230.0 266.9 L230.3 266.9 L230.6 266.9 L230.9 267.0 L231.2 267.0 L231.5 267.0 L231.8 267.0 L232.1 267.0 L232.4 266.9 L232.7 266.9 L233.0 266.8 L233.3 266.7 L233.6 266.7 L233.9 266.7 L234.2 266.6 L234.5 266.6 L234.8 266.6 L235.1 266.5 L235.4 266.3 L235.7 266.1 L236.0 265.9 L236.3 265.6 L236.6 265.1 L236.9 264.6 L237.2 264.1 L237.5 263.6 L237.8 263.3 L238.1 263.1 L238.4 263.1 L238.7 263.4 L239.0 263.8 L239.3 264.4 L239.6 264.9 L239.9 265.5 L240.2 265.9 L240.5 266.2 L240.8 266.3 L241.1 266.4 L241.4 266.5 L241.7 266.6 L242.0 266.6 L242.3 266.6 L242.6 266.6 L242.9 266.5 L243.2 266.4 L243.5 266.3 L243.8 266.3 L244.1 266.3 L244.4 266.2 L244.7 266.1 L245.0 265.7 L245.3 265.3 L245.6 264.7 L245.9 264.0 L246.2 263.3 L246.5 262.4 L246.8 261.4 L247.1 260.3 L247.4 258.5 L247.7 254.5 L248.0 246.7 L248.3 233.2 L248.6 163.6 L248.9 144.3 L249.2 133.9 L249.5 126.7 L249.8 119.1 L250.1 108.7 L250.1 108.7 L250.3 100.9 L250.4 104.7 L250.5 108.5 L250.7 115.7 L251.0 124.8 L251.3 133.2 L251.6 142.0 L251.9 152.4 L252.2 162.2 L252.5 177.8 L252.8 230.5 L253.1 239.5 L253.4 245.7 L253.7 249.7 L254.0 252.4 L254.3 254.4 L254.6 256.5 L254.9 258.2 L255.2 259.1 L255.5 259.6 L255.8 259.7 L256.1 259.3 L256.4 258.7 L256.7 258.0 L257.0 257.1 L257.3 255.8 L257.6 254.2 L257.9 251.4 L258.2 247.5 L258.5 243.6 L258.8 239.8 L259.1 236.1 L259.4 232.9 L259.6 231.0 L259.7 230.2 L259.8 229.4 L260.0 231.4 L260.0 231.4 L260.3 234.3 L260.6 237.3 L260.9 240.1 L261.2 242.4 L261.5 244.4 L261.8 246.2 L262.1 248.0 L262.4 250.1 L262.7 252.7 L263.0 255.7 L263.3 258.5 L263.6 260.5 L263.9 261.6 L264.2 262.6 L264.5 263.3 L264.8 263.9 L265.1 264.3 L265.4 264.6 L265.7 264.7 L266.0 264.9 L266.3 265.0 L266.6 265.1 L266.9 265.2 L267.2 265.1 L267.5 265.1 L267.8 264.9 L268.1 264.8 L268.4 264.8 L268.7 264.9 L269.0 265.1 L269.3 265.3 L269.6 265.6 L269.9 265.8 L270.2 266.0 L270.5 266.2 L270.8 266.5 L271.1 266.7 L271.4 266.9 L271.7 267.1 L272.0 267.2 L272.3 267.2 L272.6 267.3 L272.9 267.3 L273.2 267.3 L273.5 267.3 L273.8 267.2 L274.1 267.1 L274.4 267.0 L274.7 266.8 L275.0 266.7 L275.3 266.5 L275.6 266.3 L275.9 266.1 L276.2 266.0 L276.5 265.8 L276.8 265.8 L277.1 265.7 L277.4 265.7 L277.7 265.7 L278.0 265.6 L278.3 265.5 L278.6 265.4 L278.9 265.2 L279.2 265.0 L279.5 264.7 L279.8 264.3 L280.1 263.7 L280.4 262.8 L280.7 261.5 L281.0 259.9 L281.3 254.7 L281.6 247.0 L281.9 238.9 L282.2 231.4 L282.5 227.4 L282.8 225.0 L283.1 222.5 L283.3 220.3 L283.4 218.9 L283.5 217.5 L283.7 220.3 L283.7 220.3 L284.0 223.2 L284.3 225.1 L284.6 227.0 L284.9 229.8 L285.2 235.3 L285.5 242.6 L285.8 248.8 L286.1 254.6 L286.4 258.9 L286.7 260.7 L287.0 262.1 L287.3 263.2 L287.6 264.1 L287.9 264.8 L288.2 265.3 L288.5 265.7 L288.8 266.0 L289.1 266.3 L289.4 266.5 L289.7 266.6 L290.0 266.7 L290.3 266.8 L290.6 266.8 L290.9 266.8 L291.2 266.8 L291.5 266.8 L291.8 266.9 L292.1 267.0 L292.4 267.1 L292.7 267.2 L293.0 267.2 L293.3 267.2 L293.6 267.3 L293.9 267.3 L294.2 267.4 L294.5 267.4 L294.8 267.3 L295.1 267.2 L295.4 267.1 L295.7 267.0 L296.0 267.0 L296.3 267.0 L296.6 267.1 L296.9 267.2 L297.2 267.3 L297.5 267.3 L297.8 267.4 L298.1 267.4 L298.4 267.4 L298.7 267.4 L299.0 267.4 L299.3 267.4 L299.6 267.4 L299.9 267.3 L300.2 267.3 L300.5 267.3 L300.8 267.2 L301.1 267.1 L301.4 266.9 L301.7 266.6 L302.0 266.3 L302.3 266.0 L302.6 265.8 L302.9 265.5 L303.2 265.2 L303.5 264.9 L303.8 264.7 L304.1 264.5 L304.4 264.3 L304.7 264.3 L305.0 264.3 L305.3 264.4 L305.6 264.5 L305.9 264.8 L306.2 265.0 L306.5 265.2 L306.8 265.5 L307.1 265.7 L307.4 265.9 L307.7 266.1 L308.0 266.2 L308.3 266.2 L308.6 266.2 L308.9 266.0 L309.2 265.8 L309.5 265.5 L309.8 265.2 L310.1 264.7 L310.4 264.2 L310.7 263.6 L311.0 263.2 L311.3 262.9 L311.6 262.8 L311.9 262.9 L312.2 263.1 L312.5 263.4 L312.8 263.9 L313.1 264.4 L313.4 264.9 L313.7 265.4 L314.0 265.8 L314.3 266.2 L314.6 266.4 L314.9 266.5 L315.2 266.7 L315.5 266.8 L315.8 266.9 L316.1 267.0 L316.4 267.1 L316.7 267.1 L317.0 267.1 L317.3 267.1 L317.6 267.2 L317.9 267.2 L318.2 267.2 L318.5 267.2 L318.8 267.2 L319.1 267.0 L319.4 266.8 L319.7 266.7 L320.0 266.7 L320.3 266.7 L320.6 266.8 L320.9 266.9 L321.2 267.1 L321.5 267.1 L321.8 267.1 L322.1 267.2 L322.4 267.2 L322.7 267.3 L323.0 267.3 L323.3 267.3 L323.6 267.3 L323.9 267.3 L324.2 267.2 L324.5 267.1 L324.8 267.0 L325.1 266.8 L325.4 266.7 L325.7 266.5 L326.0 266.3 L326.3 266.0 L326.6 265.6 L326.9 265.1 L327.2 264.6 L327.5 264.0 L327.8 263.3 L328.1 262.6 L328.4 261.8 L328.7 260.9 L329.0 259.7 L329.3 258.1 L329.6 256.2 L329.9 254.0 L330.2 251.7 L330.5 249.3 L330.8 246.9 L331.1 243.5 L331.4 237.8 L331.7 221.6 L332.0 204.4 L332.3 199.3 L332.6 194.2 L332.9 189.1 L333.2 184.0 L333.5 177.7 L333.5 177.7 L333.7 172.7 L333.8 175.3 L333.9 177.8 L334.1 182.3 L334.4 187.8 L334.7 192.9 L335.0 198.4 L335.3 204.1 L335.6 210.7 L335.9 219.9 L336.2 229.8 L336.5 237.1 L336.8 243.6 L337.1 248.7 L337.4 251.7 L337.7 253.8 L338.0 255.7 L338.3 257.3 L338.6 258.6 L338.9 259.7 L339.2 260.6 L339.5 261.3 L339.8 262.0 L340.1 262.6 L340.4 263.2 L340.7 263.6 L341.0 264.0 L341.3 264.3 L341.6 264.5 L341.9 264.7 L342.2 264.9 L342.5 265.1 L342.8 265.3 L343.1 265.3 L343.4 265.3 L343.7 265.1 L344.0 265.0 L344.3 264.7 L344.6 264.2 L344.9 263.5 L345.2 262.6 L345.5 261.5 L345.8 260.2 L346.1 258.7 L346.4 257.2 L346.7 255.9 L347.0 254.7 L347.3 253.9 L347.6 253.6 L347.9 253.8 L348.2 254.4 L348.5 255.1 L348.8 256.1 L349.1 257.1 L349.4 258.3 L349.7 259.5 L350.0 260.7 L350.3 261.8 L350.6 262.9 L350.9 263.7 L351.2 264.3 L351.5 264.9 L351.8 265.3 L352.1 265.7 L352.4 266.1 L352.7 266.4 L353.0 266.8 L353.3 267.0 L353.6 267.1 L353.9 267.2 L354.2 267.2 L354.5 267.3 L354.8 267.3 L355.1 267.4 L355.4 267.4 L355.7 267.3 L356.0 267.3 L356.3 267.2 L356.6 267.1 L356.9 267.1 L357.2 267.1 L357.5 267.0 L357.8 266.9 L358.1 266.8 L358.4 266.8 L358.7 266.8 L359.0 266.8 L359.3 266.8 L359.6 266.8 L359.9 266.7 L360.2 266.6 L360.5 266.5 L360.8 266.3 L361.1 266.1 L361.4 265.9 L361.7 265.8 L362.0 265.7 L362.3 265.6 L362.6 265.6 L362.9 265.5 L363.2 265.5 L363.5 265.6 L363.8 265.8 L364.1 266.1 L364.4 266.4 L364.7 266.6 L365.0 266.7 L365.3 266.7 L365.6 266.8 L365.9 266.8 L366.2 266.8 L366.5 266.9 L366.8 266.9 L367.1 266.9 L367.4 267.0 L367.7 267.0 L368.0 267.0 L368.3 267.0 L368.6 267.1 L368.9 267.2 L369.2 267.3 L369.5 267.3 L369.8 267.3 L370.1 267.3 L370.4 267.1 L370.7 267.0 L371.0 267.0 L371.3 267.0 L371.6 267.0 L371.9 267.1 L372.2 267.2 L372.5 267.3 L372.8 267.3 L373.1 267.3 L373.4 267.3 L373.7 267.3 L374.0 267.3 L374.3 267.3 L374.6 267.2 L374.9 267.1 L375.2 267.0 L375.5 266.9 L375.8 266.8 L376.1 266.8 L376.4 266.8 L376.7 266.8 L377.0 266.8 L377.3 266.8 L377.6 266.8 L377.9 266.8 L378.2 266.8 L378.5 266.8 L378.8 266.8 L379.1 266.8 L379.4 266.8 L379.7 266.8 L380.0 266.8 L380.3 266.8 L380.6 266.8 L380.9 266.8 L381.2 266.8 L381.5 266.9 L381.8 267.0 L382.1 267.0 L382.4 267.1 L382.7 267.0 L383.0 267.0 L383.3 266.9 L383.6 266.8 L383.9 266.8 L384.2 266.8 L384.5 266.8 L384.8 266.9 L385.1 266.9 L385.4 266.9 L385.7 266.9 L386.0 266.9 L386.3 266.8 L386.6 266.8 L386.9 266.7 L387.2 266.7 L387.5 266.8 L387.8 266.9 L388.1 267.1 L388.4 267.2 L388.7 267.3 L389.0 267.3 L389.3 267.2 L389.6 267.1 L389.9 267.0 L390.2 266.9 L390.5 266.9 L390.8 266.9 L391.1 266.9 L391.4 266.9 L391.7 267.0 L392.0 267.0 L392.3 267.0 L392.6 267.0 L392.9 267.0 L393.2 267.1 L393.5 267.1 L393.8 267.1 L394.1 267.1 L394.4 267.2 L394.7 267.3 L395.0 267.3 L395.3 267.3 L395.6 267.3 L395.9 267.2 L396.2 267.1 L396.5 267.0 L396.8 266.9 L397.1 267.0 L397.4 267.1 L397.7 267.2 L398.0 267.3 L398.3 267.3 L398.6 267.3 L398.9 267.3 L399.2 267.2 L399.5 267.1 L399.8 267.0 L400.1 267.0 L400.4 267.0 L400.7 267.0 L401.0 267.0 L401.3 267.0 L401.6 267.0 L401.9 267.0 L402.2 267.0 L402.5 266.9 L402.8 266.9 L403.1 266.8 L403.4 266.6 L403.7 266.3 L404.0 265.8 L404.3 265.3 L404.6 264.8 L404.9 264.3 L405.2 263.8 L405.5 263.5 L405.8 263.3 L406.1 263.3 L406.4 263.4 L406.7 263.7 L407.0 264.1 L407.3 264.5 L407.6 264.9 L407.9 265.4 L408.2 265.8 L408.5 266.1 L408.8 266.3 L409.1 266.4 L409.4 266.5 L409.7 266.5 L410.0 266.7 L410.3 266.8 L410.6 267.0 L410.9 267.1 L411.2 267.1 L411.5 266.9 L411.8 266.5 L412.1 266.1 L412.4 265.5 L412.7 264.9 L413.0 264.3 L413.3 263.7 L413.6 263.2 L413.9 262.7 L414.2 262.4 L414.5 262.3 L414.8 262.4 L415.1 262.7 L415.4 263.2 L415.7 263.7 L416.0 264.3 L416.3 264.9 L416.6 265.4 L416.9 265.8 L417.2 266.1 L417.5 266.4 L417.8 266.6 L418.1 266.7 L418.4 266.8 L418.7 266.8 L419.0 266.8 L419.3 266.8 L419.6 266.9 L419.9 266.9 L420.2 267.0 L420.5 267.0 L420.8 267.0 L421.1 267.0 L421.4 267.0 L421.7 267.0 L422.0 267.0 L422.3 267.0 L422.6 267.1 L422.9 267.1 L423.2 267.1 L423.5 267.2 L423.8 267.2 L424.1 267.2 L424.4 267.1 L424.7 267.0 L425.0 266.9 L425.3 266.7 L425.6 266.7 L425.9 266.7 L426.2 266.8 L426.5 266.9 L426.8 267.0 L427.1 267.0 L427.4 267.0 L427.7 267.0 L428.0 266.9 L428.3 266.9 L428.6 266.8 L428.9 266.8 L429.2 266.8 L429.5 266.8 L429.8 266.8 L430.1 266.8 L430.4 266.8 L430.7 266.9 L431.0 266.9 L431.3 267.1 L431.6 267.2 L431.9 267.2 L432.2 267.2 L432.5 267.2 L432.8 267.1 L433.1 267.1 L433.4 267.0 L433.7 267.0 L434.0 267.0 L434.3 267.0 L434.6 267.0 L434.9 267.0 L435.2 267.0 L435.5 267.1 L435.8 267.1 L436.1 267.1 L436.4 267.2 L436.7 267.2 L437.0 267.2 L437.3 267.2 L437.6 267.3 L437.9 267.3 L438.2 267.3 L438.5 267.3 L438.8 267.3 L439.1 267.2 L439.4 267.1 L439.7 267.0 L440.0 267.0 L440.3 267.0 L440.6 267.0 L440.9 267.0 L441.2 267.1 L441.5 267.1 L441.8 267.1 L442.1 267.1 L442.4 267.0 L442.7 267.0 L443.0 267.0 L443.3 267.0 L443.6 267.0 L443.9 267.0 L444.2 267.0 L444.5 267.0 L444.8 267.0 L445.1 267.0 L445.4 267.1 L445.7 267.1 L446.0 267.1 L446.3 267.2 L446.6 267.1 L446.9 267.1 L447.2 267.1 L447.5 267.0 L447.8 267.0 L448.1 267.0 L448.4 267.0 L448.7 267.0 L449.0 267.0 L449.3 267.0 L449.6 267.0 L449.9 267.0 L450.2 267.0 L450.5 267.0 L450.8 267.0 L451.1 267.0 L451.4 267.0 L451.7 267.0 L452.0 267.1 L452.3 267.1 L452.6 267.1 L452.9 267.1 L453.2 266.9 L453.5 266.8 L453.8 266.6 L454.1 266.5 L454.4 266.4 L454.7 266.4 L455.0 266.4 L455.3 266.5 L455.6 266.5 L455.9 266.6 L456.2 266.7 L456.5 266.8 L456.8 266.9 L457.1 267.0 L457.4 267.1 L457.7 267.2 L458.0 267.2 L458.3 267.1 L458.6 266.9 L458.9 266.8 L459.2 266.8 L459.5 266.8 L459.8 266.9 L460.1 266.9 L460.4 267.0 L460.7 267.0 L461.0 267.1 L461.3 267.1 L461.6 267.2 L461.9 267.3 L462.2 267.3 L462.5 267.4 L462.8 267.3 L463.1 267.3 L463.4 267.3 L463.7 267.3 L464.0 267.3 L464.3 267.2 L464.6 267.1 L464.9 266.9 L465.2 266.8 L465.5 266.7 L465.8 266.7 L466.1 266.7 L466.4 266.7 L466.7 266.7 L467.0 266.7 L467.3 266.7 L467.6 266.7 L467.9 266.8 L468.2 266.9 L468.5 266.9 L468.8 267.0 L469.1 266.9 L469.4 266.9 L469.7 266.8 L470.0 266.7 L470.3 266.7 L470.6 266.7 L470.9 266.7 L471.2 266.7 L471.5 266.8 L471.8 266.8 L472.1 266.8 L472.4 266.8 L472.7 266.7 L473.0 266.7 L473.3 266.7 L473.6 266.7 L473.9 266.7 L474.2 266.8 L474.5 266.9 L474.8 267.1 L475.1 267.1 L475.4 267.1 L475.7 267.2 L476.0 267.2 L476.3 267.2 L476.6 267.2 L476.9 267.2 L477.2 267.2 L477.5 267.3 L477.8 267.3 L478.1 267.3 L478.4 267.3 L478.7 267.3 L479.0 267.1 L479.3 267.0 L479.6 266.8 L479.9 266.7 L480.2 266.7 L480.5 266.8 L480.8 266.9 L481.1 267.1 L481.4 267.2 L481.7 267.2 L482.0 267.2 L482.3 267.2 L482.6 267.1 L482.9 267.1 L483.2 267.1 L483.5 267.1 L483.8 267.0 L484.1 266.9 L484.4 266.8 L484.7 266.7 L485.0 266.7 L485.3 266.9 L485.6 267.0 L485.9 267.2 L486.2 267.3 L486.5 267.3 L486.8 267.3 L487.1 267.3 L487.4 267.4 L487.7 267.4 L488.0 267.4 L488.3 267.3 L488.6 267.2 L488.9 267.0 L489.2 266.9 L489.5 266.8 L489.8 266.8 L490.1 266.9 L490.4 267.1 L490.7 267.2 L491.0 267.3 L491.3 267.4 L491.6 267.3 L491.9 267.2 L492.2 267.1 L492.5 267.0 L492.8 266.9 L493.1 266.9 L493.4 266.9 L493.7 267.0 L494.0 267.0 L494.3 267.0 L494.6 267.0 L494.9 267.1 L495.2 267.2 L495.5 267.3 L495.8 267.4 L496.1 267.4 L496.4 267.4 L496.7 267.3 L497.0 267.3 L497.3 267.3 L497.6 267.3 L497.9 267.2 L498.2 267.1 L498.5 266.9 L498.8 266.8 L499.1 266.7 L499.4 266.7 L499.7 266.8 L500.0 266.8 L500.3 266.9 L500.6 266.9 L500.9 266.9 L501.2 267.0 L501.5 267.0 L501.8 267.0 L502.1 267.0 L502.4 267.0 L502.7 267.0 L503.0 267.0 L503.3 266.9 L503.6 266.9 L503.9 266.9 L504.2 266.9 L504.5 266.8 L504.8 266.8 L505.1 266.8 L505.4 266.8 L505.7 266.8 L506.0 266.8 L506.3 266.8 L506.6 266.8 L506.9 266.8 L507.2 266.9 L507.5 266.9 L507.8 267.0 L508.1 267.0 L508.4 267.1 L508.7 267.2 L509.0 267.2 L509.3 267.0 L509.6 266.9 L509.9 266.7 L510.2 266.6 L510.5 266.6 L510.8 266.7 L511.1 266.8 L511.4 266.9 L511.7 267.0 L512.0 267.0 L512.3 267.0 L512.6 267.0 L512.9 267.0 L513.2 267.0 L513.5 267.0 L513.8 266.9 L514.1 266.9 L514.4 266.8 L514.7 266.7 L515.0 266.6 L515.3 266.6 L515.6 266.7 L515.9 266.7 L516.2 266.8 L516.5 266.8 L516.8 266.9 L517.1 266.9 L517.4 266.9 L517.7 267.0 L518.0 267.1 L518.3 267.1 L518.6 267.1 L518.9 267.1 L519.2 267.1 L519.5 267.0 L519.8 267.0 L520.1 267.0 L520.4 267.0 L520.7 266.9 L521.0 266.8 L521.3 266.7 L521.6 266.7 L521.9 266.7 L522.2 266.9 L522.5 267.1 L522.8 267.3 L523.1 267.4 L523.4 267.4 L523.7 267.4 L524.0 267.3 L524.3 267.3 L524.6 267.2 L524.9 267.2 L525.2 267.3 L525.5 267.3 L525.8 267.3 L526.1 267.4 L526.4 267.4 L526.7 267.3 L527.0 267.2 L527.3 267.0 L527.6 266.8 L527.9 266.7 L528.2 266.7 L528.5 266.7 L528.8 266.7 L529.1 266.8 L529.4 266.8" fill="none" stroke="#0b1426" stroke-width="1.45" stroke-linejoin="round" stroke-linecap="round"/>
<path d="M129.1 48.8L133.7 58.5L138.6 48.8" fill="none" stroke="#0a2a18" stroke-width="1.0"/>
<line x1="129.1" y1="39.0" x2="129.1" y2="48.8" stroke="#58b4ea" stroke-width="1.0" stroke-dasharray="1.5 0.5"/>
<line x1="138.6" y1="39.0" x2="138.6" y2="48.8" stroke="#58b4ea" stroke-width="1.0" stroke-dasharray="1.5 0.5"/>
<line x1="133.7" y1="58.5" x2="133.7" y2="68.2" stroke="#35c0c8" stroke-width="1.0" stroke-dasharray="1.5 0.5"/>
<line x1="133.7" y1="68.2" x2="133.7" y2="77.8" stroke="#5a8cf0" stroke-width="1.0" stroke-dasharray="1.5 0.5"/>
<line x1="133.7" y1="77.8" x2="143.9" y2="77.8" stroke="#7cc6ee" stroke-width="0.9" stroke-dasharray="1.2 0.8"/>
<rect x="127.00" y="36.90" width="4.2" height="4.2" fill="#07091a" stroke="#2b2fa8" stroke-opacity="0.3" stroke-width="0.7"/>
<rect x="136.50" y="36.90" width="4.2" height="4.2" fill="#07091a" stroke="#2b2fa8" stroke-opacity="0.3" stroke-width="0.7"/>
<circle cx="129.10" cy="48.80" r="2.4" fill="#19b060" opacity="0.4"/>
<circle cx="129.10" cy="48.80" r="1.9" fill="#0b3f1f" stroke="#030a06" stroke-width="0.95"/>
<circle cx="138.60" cy="48.80" r="2.4" fill="#19b060" opacity="0.4"/>
<circle cx="138.60" cy="48.80" r="1.9" fill="#0b3f1f" stroke="#030a06" stroke-width="0.95"/>
<circle cx="133.70" cy="58.50" r="2.4" fill="#19b060" opacity="0.4"/>
<circle cx="133.70" cy="58.50" r="1.9" fill="#0b3f1f" stroke="#030a06" stroke-width="0.95"/>
<rect x="131.60" y="66.10" width="4.2" height="4.2" fill="#07091a" stroke="#2b2fa8" stroke-opacity="0.3" stroke-width="0.7"/>
<rect x="131.60" y="75.70" width="4.2" height="4.2" fill="#07091a" stroke="#2b2fa8" stroke-opacity="0.3" stroke-width="0.7"/>
<path d="M142.10 77.80L145.50 75.90L145.50 79.70Z" fill="#b00e1a" stroke="#30060a" stroke-width="0.6"/>
<line x1="119.2" y1="35.9" x2="125.5" y2="56.9" stroke="#0a0e18" stroke-width="1.15" stroke-linecap="round"/>
<path d="M166.9 43.2L171.8 52.5L176.5 43.2" fill="none" stroke="#0a2a18" stroke-width="1.0"/>
<line x1="166.9" y1="33.8" x2="166.9" y2="43.2" stroke="#58b4ea" stroke-width="1.0" stroke-dasharray="1.5 0.5"/>
<line x1="176.5" y1="33.8" x2="176.5" y2="43.2" stroke="#58b4ea" stroke-width="1.0" stroke-dasharray="1.5 0.5"/>
<line x1="166.9" y1="24.5" x2="166.9" y2="33.8" stroke="#39c6e6" stroke-width="1.0" stroke-dasharray="1.5 0.5"/>
<line x1="171.8" y1="52.5" x2="171.8" y2="61.8" stroke="#35c0c8" stroke-width="1.0" stroke-dasharray="1.5 0.5"/>
<line x1="171.8" y1="61.8" x2="171.8" y2="71.4" stroke="#5a8cf0" stroke-width="1.0" stroke-dasharray="1.5 0.5"/>
<line x1="171.8" y1="71.4" x2="181.5" y2="71.4" stroke="#7cc6ee" stroke-width="0.9" stroke-dasharray="1.2 0.8"/>
<rect x="164.80" y="31.70" width="4.2" height="4.2" fill="#07091a" stroke="#2b2fa8" stroke-opacity="0.3" stroke-width="0.7"/>
<rect x="174.40" y="31.70" width="4.2" height="4.2" fill="#07091a" stroke="#2b2fa8" stroke-opacity="0.3" stroke-width="0.7"/>
<circle cx="166.90" cy="43.20" r="2.4" fill="#19b060" opacity="0.4"/>
<circle cx="166.90" cy="43.20" r="1.9" fill="#0b3f1f" stroke="#030a06" stroke-width="0.95"/>
<circle cx="176.50" cy="43.20" r="2.4" fill="#19b060" opacity="0.4"/>
<circle cx="176.50" cy="43.20" r="1.9" fill="#0b3f1f" stroke="#030a06" stroke-width="0.95"/>
<circle cx="171.80" cy="52.50" r="2.4" fill="#19b060" opacity="0.4"/>
<circle cx="171.80" cy="52.50" r="1.9" fill="#0b3f1f" stroke="#030a06" stroke-width="0.95"/>
<rect x="169.70" y="59.70" width="4.2" height="4.2" fill="#07091a" stroke="#2b2fa8" stroke-opacity="0.3" stroke-width="0.7"/>
<rect x="169.70" y="69.30" width="4.2" height="4.2" fill="#07091a" stroke="#2b2fa8" stroke-opacity="0.3" stroke-width="0.7"/>
<circle cx="166.90" cy="24.50" r="2.1" fill="#fbe60a" stroke="#3a3405" stroke-width="0.8"/>
<path d="M179.70 71.40L183.10 69.50L183.10 73.30Z" fill="#b00e1a" stroke="#30060a" stroke-width="0.6"/>
<line x1="174.3" y1="75.8" x2="177.3" y2="82.6" stroke="#0a0e18" stroke-width="1.15" stroke-linecap="round"/>
<text x="172.7" y="86.9" font-family="'Liberation Sans', sans-serif" font-weight="700" font-size="5.3" fill="#05060c" stroke="#05060c" stroke-width="0.3" textLength="13.6" lengthAdjust="spacingAndGlyphs">18.90</text>
<path d="M203.9 50.4L208.7 60.0L213.5 50.4" fill="none" stroke="#0a2a18" stroke-width="1.0"/>
<line x1="203.9" y1="41.2" x2="203.9" y2="50.4" stroke="#58b4ea" stroke-width="1.0" stroke-dasharray="1.5 0.5"/>
<line x1="213.5" y1="41.2" x2="213.5" y2="50.4" stroke="#58b4ea" stroke-width="1.0" stroke-dasharray="1.5 0.5"/>
<line x1="213.5" y1="32.1" x2="213.5" y2="41.2" stroke="#39c6e6" stroke-width="1.0" stroke-dasharray="1.5 0.5"/>
<line x1="208.7" y1="60.0" x2="208.7" y2="69.3" stroke="#35c0c8" stroke-width="1.0" stroke-dasharray="1.5 0.5"/>
<line x1="208.7" y1="69.3" x2="208.7" y2="78.6" stroke="#5a8cf0" stroke-width="1.0" stroke-dasharray="1.5 0.5"/>
<line x1="208.7" y1="78.6" x2="218.1" y2="78.6" stroke="#7cc6ee" stroke-width="0.9" stroke-dasharray="1.2 0.8"/>
<rect x="201.80" y="39.10" width="4.2" height="4.2" fill="#07091a" stroke="#2b2fa8" stroke-opacity="0.3" stroke-width="0.7"/>
<rect x="211.40" y="39.10" width="4.2" height="4.2" fill="#07091a" stroke="#2b2fa8" stroke-opacity="0.3" stroke-width="0.7"/>
<circle cx="203.90" cy="50.40" r="2.4" fill="#19b060" opacity="0.4"/>
<circle cx="203.90" cy="50.40" r="1.9" fill="#0b3f1f" stroke="#030a06" stroke-width="0.95"/>
<circle cx="213.50" cy="50.40" r="2.4" fill="#19b060" opacity="0.4"/>
<circle cx="213.50" cy="50.40" r="1.9" fill="#0b3f1f" stroke="#030a06" stroke-width="0.95"/>
<circle cx="208.70" cy="60.00" r="2.4" fill="#19b060" opacity="0.4"/>
<circle cx="208.70" cy="60.00" r="1.9" fill="#0b3f1f" stroke="#030a06" stroke-width="0.95"/>
<rect x="206.60" y="67.20" width="4.2" height="4.2" fill="#07091a" stroke="#2b2fa8" stroke-opacity="0.3" stroke-width="0.7"/>
<rect x="206.60" y="76.50" width="4.2" height="4.2" fill="#07091a" stroke="#2b2fa8" stroke-opacity="0.3" stroke-width="0.7"/>
<circle cx="213.50" cy="32.10" r="2.1" fill="#fbe60a" stroke="#3a3405" stroke-width="0.8"/>
<path d="M216.30 78.60L219.70 76.70L219.70 80.50Z" fill="#b00e1a" stroke="#30060a" stroke-width="0.6"/>
<line x1="203.0" y1="76.0" x2="191.0" y2="92.6" stroke="#0a0e18" stroke-width="1.15" stroke-linecap="round"/>
<text x="185.3" y="101.2" font-family="'Liberation Sans', sans-serif" font-weight="700" font-size="5.3" fill="#05060c" stroke="#05060c" stroke-width="0.3" textLength="13.1" lengthAdjust="spacingAndGlyphs">19.38</text>
<path d="M241.4 47.4L246.0 56.7L250.6 47.4" fill="none" stroke="#0a2a18" stroke-width="1.0"/>
<line x1="241.4" y1="37.8" x2="241.4" y2="47.4" stroke="#58b4ea" stroke-width="1.0" stroke-dasharray="1.5 0.5"/>
<line x1="250.6" y1="37.8" x2="250.6" y2="47.4" stroke="#58b4ea" stroke-width="1.0" stroke-dasharray="1.5 0.5"/>
<line x1="241.4" y1="28.7" x2="241.4" y2="37.8" stroke="#39c6e6" stroke-width="1.0" stroke-dasharray="1.5 0.5"/>
<line x1="250.6" y1="28.7" x2="250.6" y2="37.8" stroke="#39c6e6" stroke-width="1.0" stroke-dasharray="1.5 0.5"/>
<line x1="246.0" y1="56.7" x2="246.0" y2="65.7" stroke="#35c0c8" stroke-width="1.0" stroke-dasharray="1.5 0.5"/>
<line x1="246.0" y1="65.7" x2="246.0" y2="75.1" stroke="#5a8cf0" stroke-width="1.0" stroke-dasharray="1.5 0.5"/>
<line x1="246.0" y1="75.1" x2="255.3" y2="75.1" stroke="#7cc6ee" stroke-width="0.9" stroke-dasharray="1.2 0.8"/>
<rect x="239.30" y="35.70" width="4.2" height="4.2" fill="#07091a" stroke="#2b2fa8" stroke-opacity="0.3" stroke-width="0.7"/>
<rect x="248.50" y="35.70" width="4.2" height="4.2" fill="#07091a" stroke="#2b2fa8" stroke-opacity="0.3" stroke-width="0.7"/>
<circle cx="241.40" cy="47.40" r="2.4" fill="#19b060" opacity="0.4"/>
<circle cx="241.40" cy="47.40" r="1.9" fill="#0b3f1f" stroke="#030a06" stroke-width="0.95"/>
<circle cx="250.60" cy="47.40" r="2.4" fill="#19b060" opacity="0.4"/>
<circle cx="250.60" cy="47.40" r="1.9" fill="#0b3f1f" stroke="#030a06" stroke-width="0.95"/>
<circle cx="246.00" cy="56.70" r="2.4" fill="#19b060" opacity="0.4"/>
<circle cx="246.00" cy="56.70" r="1.9" fill="#0b3f1f" stroke="#030a06" stroke-width="0.95"/>
<rect x="243.90" y="63.60" width="4.2" height="4.2" fill="#07091a" stroke="#2b2fa8" stroke-opacity="0.3" stroke-width="0.7"/>
<rect x="243.90" y="73.00" width="4.2" height="4.2" fill="#07091a" stroke="#2b2fa8" stroke-opacity="0.3" stroke-width="0.7"/>
<circle cx="241.40" cy="28.70" r="2.1" fill="#fbe60a" stroke="#3a3405" stroke-width="0.8"/>
<circle cx="250.60" cy="28.70" r="2.1" fill="#fbe60a" stroke="#3a3405" stroke-width="0.8"/>
<path d="M253.50 75.10L256.90 73.20L256.90 77.00Z" fill="#b00e1a" stroke="#30060a" stroke-width="0.6"/>
<line x1="248.8" y1="81.8" x2="252.7" y2="92.6" stroke="#0a0e18" stroke-width="1.15" stroke-linecap="round"/>
<text x="243.2" y="100.1" font-family="'Liberation Sans', sans-serif" font-weight="700" font-size="5.3" fill="#05060c" stroke="#05060c" stroke-width="0.3" textLength="13.5" lengthAdjust="spacingAndGlyphs">21.65</text>
<path d="M123.3 110.5L133.2 121.0L143.2 110.5" fill="none" stroke="#0a2a18" stroke-width="1.0"/>
<line x1="123.3" y1="100.1" x2="123.3" y2="110.5" stroke="#58b4ea" stroke-width="1.0" stroke-dasharray="1.5 0.5"/>
<line x1="143.2" y1="100.1" x2="143.2" y2="110.5" stroke="#58b4ea" stroke-width="1.0" stroke-dasharray="1.5 0.5"/>
<line x1="133.2" y1="121.0" x2="133.2" y2="131.0" stroke="#35c0c8" stroke-width="1.0" stroke-dasharray="1.5 0.5"/>
<line x1="133.2" y1="131.0" x2="133.2" y2="141.0" stroke="#5a8cf0" stroke-width="1.0" stroke-dasharray="1.5 0.5"/>
<line x1="133.2" y1="110.5" x2="133.2" y2="121.0" stroke="#35c0c8" stroke-width="1.0" stroke-dasharray="1.5 0.5"/>
<line x1="133.2" y1="141.0" x2="144.2" y2="141.0" stroke="#7cc6ee" stroke-width="0.9" stroke-dasharray="1.2 0.8"/>
<rect x="121.20" y="98.00" width="4.2" height="4.2" fill="#07091a" stroke="#2b2fa8" stroke-opacity="0.3" stroke-width="0.7"/>
<rect x="141.10" y="98.00" width="4.2" height="4.2" fill="#07091a" stroke="#2b2fa8" stroke-opacity="0.3" stroke-width="0.7"/>
<circle cx="123.30" cy="110.50" r="2.4" fill="#19b060" opacity="0.4"/>
<circle cx="123.30" cy="110.50" r="1.9" fill="#0b3f1f" stroke="#030a06" stroke-width="0.95"/>
<circle cx="143.20" cy="110.50" r="2.4" fill="#19b060" opacity="0.4"/>
<circle cx="143.20" cy="110.50" r="1.9" fill="#0b3f1f" stroke="#030a06" stroke-width="0.95"/>
<circle cx="133.20" cy="121.00" r="2.4" fill="#19b060" opacity="0.4"/>
<circle cx="133.20" cy="121.00" r="1.9" fill="#0b3f1f" stroke="#030a06" stroke-width="0.95"/>
<rect x="131.10" y="108.40" width="4.2" height="4.2" fill="#07091a" stroke="#2b2fa8" stroke-opacity="0.3" stroke-width="0.7"/>
<rect x="131.10" y="128.90" width="4.2" height="4.2" fill="#07091a" stroke="#2b2fa8" stroke-opacity="0.3" stroke-width="0.7"/>
<rect x="131.10" y="138.90" width="4.2" height="4.2" fill="#07091a" stroke="#2b2fa8" stroke-opacity="0.3" stroke-width="0.7"/>
<path d="M142.40 141.00L145.80 139.10L145.80 142.90Z" fill="#b00e1a" stroke="#30060a" stroke-width="0.6"/>
<line x1="141.8" y1="146.0" x2="142.8" y2="182.5" stroke="#0a0e18" stroke-width="1.15" stroke-linecap="round"/>
<text x="136.5" y="188.9" font-family="'Liberation Sans', sans-serif" font-weight="700" font-size="5.3" fill="#05060c" stroke="#05060c" stroke-width="0.3" textLength="12.7" lengthAdjust="spacingAndGlyphs">17.49</text>
<path d="M156.4 133.0L161.4 143.1L166.3 133.0" fill="none" stroke="#0a2a18" stroke-width="1.0"/>
<line x1="156.4" y1="122.9" x2="156.4" y2="133.0" stroke="#58b4ea" stroke-width="1.0" stroke-dasharray="1.5 0.5"/>
<line x1="166.3" y1="122.9" x2="166.3" y2="133.0" stroke="#58b4ea" stroke-width="1.0" stroke-dasharray="1.5 0.5"/>
<line x1="156.4" y1="112.7" x2="156.4" y2="122.9" stroke="#39c6e6" stroke-width="1.0" stroke-dasharray="1.5 0.5"/>
<line x1="161.4" y1="143.1" x2="161.4" y2="152.5" stroke="#35c0c8" stroke-width="1.0" stroke-dasharray="1.5 0.5"/>
<line x1="161.4" y1="152.5" x2="161.4" y2="162.4" stroke="#5a8cf0" stroke-width="1.0" stroke-dasharray="1.5 0.5"/>
<rect x="154.30" y="120.80" width="4.2" height="4.2" fill="#07091a" stroke="#2b2fa8" stroke-opacity="0.3" stroke-width="0.7"/>
<rect x="164.20" y="120.80" width="4.2" height="4.2" fill="#07091a" stroke="#2b2fa8" stroke-opacity="0.3" stroke-width="0.7"/>
<circle cx="156.40" cy="133.00" r="2.4" fill="#19b060" opacity="0.4"/>
<circle cx="156.40" cy="133.00" r="1.9" fill="#0b3f1f" stroke="#030a06" stroke-width="0.95"/>
<circle cx="166.30" cy="133.00" r="2.4" fill="#19b060" opacity="0.4"/>
<circle cx="166.30" cy="133.00" r="1.9" fill="#0b3f1f" stroke="#030a06" stroke-width="0.95"/>
<circle cx="161.40" cy="143.10" r="2.4" fill="#19b060" opacity="0.4"/>
<circle cx="161.40" cy="143.10" r="1.9" fill="#0b3f1f" stroke="#030a06" stroke-width="0.95"/>
<rect x="159.30" y="150.40" width="4.2" height="4.2" fill="#07091a" stroke="#2b2fa8" stroke-opacity="0.3" stroke-width="0.7"/>
<rect x="159.30" y="160.30" width="4.2" height="4.2" fill="#07091a" stroke="#2b2fa8" stroke-opacity="0.3" stroke-width="0.7"/>
<circle cx="156.40" cy="112.70" r="2.1" fill="#fbe60a" stroke="#3a3405" stroke-width="0.8"/>
<path d="M159.8 168.2L151.8 195L153.0 249.5" fill="none" stroke="#0a0e18" stroke-width="1.1" stroke-linejoin="round"/>
<text x="152.6" y="254.9" font-family="'Liberation Sans', sans-serif" font-weight="700" font-size="5.3" fill="#05060c" stroke="#05060c" stroke-width="0.3" textLength="12.1" lengthAdjust="spacingAndGlyphs">17.84</text>
<path d="M205.5 111.5L214.3 120.8L223.3 111.5" fill="none" stroke="#0a2a18" stroke-width="1.0"/>
<line x1="205.5" y1="102.1" x2="205.5" y2="111.5" stroke="#58b4ea" stroke-width="1.0" stroke-dasharray="1.5 0.5"/>
<line x1="223.3" y1="102.1" x2="223.3" y2="111.5" stroke="#58b4ea" stroke-width="1.0" stroke-dasharray="1.5 0.5"/>
<line x1="205.5" y1="93.3" x2="205.5" y2="102.1" stroke="#39c6e6" stroke-width="1.0" stroke-dasharray="1.5 0.5"/>
<line x1="214.3" y1="120.8" x2="214.3" y2="129.6" stroke="#35c0c8" stroke-width="1.0" stroke-dasharray="1.5 0.5"/>
<line x1="214.3" y1="129.6" x2="214.3" y2="138.8" stroke="#5a8cf0" stroke-width="1.0" stroke-dasharray="1.5 0.5"/>
<line x1="214.3" y1="111.5" x2="214.3" y2="120.8" stroke="#35c0c8" stroke-width="1.0" stroke-dasharray="1.5 0.5"/>
<line x1="214.3" y1="138.8" x2="223.7" y2="138.8" stroke="#7cc6ee" stroke-width="0.9" stroke-dasharray="1.2 0.8"/>
<rect x="203.40" y="100.00" width="4.2" height="4.2" fill="#07091a" stroke="#2b2fa8" stroke-opacity="0.3" stroke-width="0.7"/>
<rect x="221.20" y="100.00" width="4.2" height="4.2" fill="#07091a" stroke="#2b2fa8" stroke-opacity="0.3" stroke-width="0.7"/>
<circle cx="205.50" cy="111.50" r="2.4" fill="#19b060" opacity="0.4"/>
<circle cx="205.50" cy="111.50" r="1.9" fill="#0b3f1f" stroke="#030a06" stroke-width="0.95"/>
<circle cx="223.30" cy="111.50" r="2.4" fill="#19b060" opacity="0.4"/>
<circle cx="223.30" cy="111.50" r="1.9" fill="#0b3f1f" stroke="#030a06" stroke-width="0.95"/>
<circle cx="214.30" cy="120.80" r="2.4" fill="#19b060" opacity="0.4"/>
<circle cx="214.30" cy="120.80" r="1.9" fill="#0b3f1f" stroke="#030a06" stroke-width="0.95"/>
<rect x="212.20" y="109.40" width="4.2" height="4.2" fill="#07091a" stroke="#2b2fa8" stroke-opacity="0.3" stroke-width="0.7"/>
<rect x="212.20" y="127.50" width="4.2" height="4.2" fill="#07091a" stroke="#2b2fa8" stroke-opacity="0.3" stroke-width="0.7"/>
<rect x="212.20" y="136.70" width="4.2" height="4.2" fill="#07091a" stroke="#2b2fa8" stroke-opacity="0.3" stroke-width="0.7"/>
<circle cx="205.50" cy="93.30" r="2.1" fill="#fbe60a" stroke="#3a3405" stroke-width="0.8"/>
<path d="M221.90 138.80L225.30 136.90L225.30 140.70Z" fill="#b00e1a" stroke="#30060a" stroke-width="0.6"/>
<line x1="210.0" y1="125.8" x2="203.0" y2="179.8" stroke="#0a0e18" stroke-width="1.15" stroke-linecap="round"/>
<text x="197.5" y="187.7" font-family="'Liberation Sans', sans-serif" font-weight="700" font-size="5.3" fill="#05060c" stroke="#05060c" stroke-width="0.3" textLength="13.2" lengthAdjust="spacingAndGlyphs">19.60</text>
<line x1="199.0" y1="189.0" x2="197.6" y2="193.0" stroke="#0a0e18" stroke-width="1.15" stroke-linecap="round"/>
<path d="M162.0 200.1L167.1 210.2L171.9 200.1" fill="none" stroke="#0a2a18" stroke-width="1.0"/>
<line x1="162.0" y1="189.7" x2="162.0" y2="200.1" stroke="#58b4ea" stroke-width="1.0" stroke-dasharray="1.5 0.5"/>
<line x1="171.9" y1="189.7" x2="171.9" y2="200.1" stroke="#58b4ea" stroke-width="1.0" stroke-dasharray="1.5 0.5"/>
<line x1="171.9" y1="179.5" x2="171.9" y2="189.7" stroke="#39c6e6" stroke-width="1.0" stroke-dasharray="1.5 0.5"/>
<line x1="167.1" y1="210.2" x2="167.1" y2="219.8" stroke="#35c0c8" stroke-width="1.0" stroke-dasharray="1.5 0.5"/>
<line x1="167.1" y1="219.8" x2="167.1" y2="229.8" stroke="#5a8cf0" stroke-width="1.0" stroke-dasharray="1.5 0.5"/>
<rect x="159.90" y="187.60" width="4.2" height="4.2" fill="#07091a" stroke="#2b2fa8" stroke-opacity="0.3" stroke-width="0.7"/>
<rect x="169.80" y="187.60" width="4.2" height="4.2" fill="#07091a" stroke="#2b2fa8" stroke-opacity="0.3" stroke-width="0.7"/>
<circle cx="162.00" cy="200.10" r="2.4" fill="#19b060" opacity="0.4"/>
<circle cx="162.00" cy="200.10" r="1.9" fill="#0b3f1f" stroke="#030a06" stroke-width="0.95"/>
<circle cx="171.90" cy="200.10" r="2.4" fill="#19b060" opacity="0.4"/>
<circle cx="171.90" cy="200.10" r="1.9" fill="#0b3f1f" stroke="#030a06" stroke-width="0.95"/>
<circle cx="167.10" cy="210.20" r="2.4" fill="#19b060" opacity="0.4"/>
<circle cx="167.10" cy="210.20" r="1.9" fill="#0b3f1f" stroke="#030a06" stroke-width="0.95"/>
<rect x="165.00" y="217.70" width="4.2" height="4.2" fill="#07091a" stroke="#2b2fa8" stroke-opacity="0.3" stroke-width="0.7"/>
<rect x="165.00" y="227.70" width="4.2" height="4.2" fill="#07091a" stroke="#2b2fa8" stroke-opacity="0.3" stroke-width="0.7"/>
<circle cx="171.90" cy="179.50" r="2.1" fill="#fbe60a" stroke="#3a3405" stroke-width="0.8"/>
<line x1="164.7" y1="239.0" x2="164.7" y2="262.5" stroke="#0a0e18" stroke-width="1.15" stroke-linecap="round"/>
<path d="M212.7 168.2L222.1 177.6L231.4 168.2" fill="none" stroke="#0a2a18" stroke-width="1.0"/>
<line x1="212.7" y1="159.1" x2="212.7" y2="168.2" stroke="#58b4ea" stroke-width="1.0" stroke-dasharray="1.5 0.5"/>
<line x1="231.4" y1="159.1" x2="231.4" y2="168.2" stroke="#58b4ea" stroke-width="1.0" stroke-dasharray="1.5 0.5"/>
<line x1="231.4" y1="149.7" x2="231.4" y2="159.1" stroke="#39c6e6" stroke-width="1.0" stroke-dasharray="1.5 0.5"/>
<line x1="222.1" y1="177.6" x2="222.1" y2="186.7" stroke="#35c0c8" stroke-width="1.0" stroke-dasharray="1.5 0.5"/>
<line x1="222.1" y1="186.7" x2="222.1" y2="195.5" stroke="#5a8cf0" stroke-width="1.0" stroke-dasharray="1.5 0.5"/>
<line x1="222.1" y1="168.2" x2="222.1" y2="177.6" stroke="#35c0c8" stroke-width="1.0" stroke-dasharray="1.5 0.5"/>
<line x1="222.1" y1="195.5" x2="231.8" y2="195.5" stroke="#7cc6ee" stroke-width="0.9" stroke-dasharray="1.2 0.8"/>
<rect x="210.60" y="157.00" width="4.2" height="4.2" fill="#07091a" stroke="#2b2fa8" stroke-opacity="0.3" stroke-width="0.7"/>
<rect x="229.30" y="157.00" width="4.2" height="4.2" fill="#07091a" stroke="#2b2fa8" stroke-opacity="0.3" stroke-width="0.7"/>
<circle cx="212.70" cy="168.20" r="2.4" fill="#19b060" opacity="0.4"/>
<circle cx="212.70" cy="168.20" r="1.9" fill="#0b3f1f" stroke="#030a06" stroke-width="0.95"/>
<circle cx="231.40" cy="168.20" r="2.4" fill="#19b060" opacity="0.4"/>
<circle cx="231.40" cy="168.20" r="1.9" fill="#0b3f1f" stroke="#030a06" stroke-width="0.95"/>
<circle cx="222.10" cy="177.60" r="2.4" fill="#19b060" opacity="0.4"/>
<circle cx="222.10" cy="177.60" r="1.9" fill="#0b3f1f" stroke="#030a06" stroke-width="0.95"/>
<rect x="220.00" y="166.10" width="4.2" height="4.2" fill="#07091a" stroke="#2b2fa8" stroke-opacity="0.3" stroke-width="0.7"/>
<rect x="220.00" y="184.60" width="4.2" height="4.2" fill="#07091a" stroke="#2b2fa8" stroke-opacity="0.3" stroke-width="0.7"/>
<rect x="220.00" y="193.40" width="4.2" height="4.2" fill="#07091a" stroke="#2b2fa8" stroke-opacity="0.3" stroke-width="0.7"/>
<circle cx="231.40" cy="149.70" r="2.1" fill="#fbe60a" stroke="#3a3405" stroke-width="0.8"/>
<path d="M230.00 195.50L233.40 193.60L233.40 197.40Z" fill="#b00e1a" stroke="#30060a" stroke-width="0.6"/>
<line x1="219.1" y1="202.1" x2="210.5" y2="244.0" stroke="#0a0e18" stroke-width="1.15" stroke-linecap="round"/>
<text x="203.0" y="250.4" font-family="'Liberation Sans', sans-serif" font-weight="700" font-size="5.3" fill="#05060c" stroke="#05060c" stroke-width="0.3" textLength="12.7" lengthAdjust="spacingAndGlyphs">20.04</text>
<path d="M230.2 221.2L234.6 230.1L239.0 221.2" fill="none" stroke="#0a2a18" stroke-width="1.0"/>
<line x1="230.2" y1="212.1" x2="230.2" y2="221.2" stroke="#58b4ea" stroke-width="1.0" stroke-dasharray="1.5 0.5"/>
<line x1="239.0" y1="212.1" x2="239.0" y2="221.2" stroke="#58b4ea" stroke-width="1.0" stroke-dasharray="1.5 0.5"/>
<line x1="230.2" y1="203.1" x2="230.2" y2="212.1" stroke="#39c6e6" stroke-width="1.0" stroke-dasharray="1.5 0.5"/>
<line x1="239.0" y1="203.1" x2="239.0" y2="212.1" stroke="#39c6e6" stroke-width="1.0" stroke-dasharray="1.5 0.5"/>
<line x1="234.6" y1="230.1" x2="234.6" y2="239.1" stroke="#35c0c8" stroke-width="1.0" stroke-dasharray="1.5 0.5"/>
<line x1="234.6" y1="239.1" x2="234.6" y2="248.5" stroke="#5a8cf0" stroke-width="1.0" stroke-dasharray="1.5 0.5"/>
<rect x="228.10" y="210.00" width="4.2" height="4.2" fill="#07091a" stroke="#2b2fa8" stroke-opacity="0.3" stroke-width="0.7"/>
<rect x="236.90" y="210.00" width="4.2" height="4.2" fill="#07091a" stroke="#2b2fa8" stroke-opacity="0.3" stroke-width="0.7"/>
<circle cx="230.20" cy="221.20" r="2.4" fill="#19b060" opacity="0.4"/>
<circle cx="230.20" cy="221.20" r="1.9" fill="#0b3f1f" stroke="#030a06" stroke-width="0.95"/>
<circle cx="239.00" cy="221.20" r="2.4" fill="#19b060" opacity="0.4"/>
<circle cx="239.00" cy="221.20" r="1.9" fill="#0b3f1f" stroke="#030a06" stroke-width="0.95"/>
<circle cx="234.60" cy="230.10" r="2.4" fill="#19b060" opacity="0.4"/>
<circle cx="234.60" cy="230.10" r="1.9" fill="#0b3f1f" stroke="#030a06" stroke-width="0.95"/>
<rect x="232.50" y="237.00" width="4.2" height="4.2" fill="#07091a" stroke="#2b2fa8" stroke-opacity="0.3" stroke-width="0.7"/>
<rect x="232.50" y="246.40" width="4.2" height="4.2" fill="#07091a" stroke="#2b2fa8" stroke-opacity="0.3" stroke-width="0.7"/>
<circle cx="230.20" cy="203.10" r="2.1" fill="#fbe60a" stroke="#3a3405" stroke-width="0.8"/>
<circle cx="239.00" cy="203.10" r="2.1" fill="#fbe60a" stroke="#3a3405" stroke-width="0.8"/>
<line x1="230.2" y1="252.0" x2="226.1" y2="254.0" stroke="#0a0e18" stroke-width="1.15" stroke-linecap="round"/>
<text x="219.0" y="258.9" font-family="'Liberation Sans', sans-serif" font-weight="700" font-size="5.3" fill="#05060c" stroke="#05060c" stroke-width="0.3" textLength="12.0" lengthAdjust="spacingAndGlyphs">20.68</text>
<path d="M258.7 160.1L267.8 169.6L276.7 160.1" fill="none" stroke="#0a2a18" stroke-width="1.0"/>
<line x1="258.7" y1="150.7" x2="258.7" y2="160.1" stroke="#58b4ea" stroke-width="1.0" stroke-dasharray="1.5 0.5"/>
<line x1="276.7" y1="150.7" x2="276.7" y2="160.1" stroke="#58b4ea" stroke-width="1.0" stroke-dasharray="1.5 0.5"/>
<line x1="258.7" y1="141.5" x2="258.7" y2="150.7" stroke="#39c6e6" stroke-width="1.0" stroke-dasharray="1.5 0.5"/>
<line x1="276.7" y1="141.5" x2="276.7" y2="150.7" stroke="#39c6e6" stroke-width="1.0" stroke-dasharray="1.5 0.5"/>
<line x1="267.8" y1="169.6" x2="267.8" y2="178.8" stroke="#35c0c8" stroke-width="1.0" stroke-dasharray="1.5 0.5"/>
<line x1="267.8" y1="178.8" x2="267.8" y2="187.7" stroke="#5a8cf0" stroke-width="1.0" stroke-dasharray="1.5 0.5"/>
<line x1="267.8" y1="160.1" x2="267.8" y2="169.6" stroke="#35c0c8" stroke-width="1.0" stroke-dasharray="1.5 0.5"/>
<line x1="267.8" y1="187.7" x2="277.0" y2="187.7" stroke="#7cc6ee" stroke-width="0.9" stroke-dasharray="1.2 0.8"/>
<rect x="256.60" y="148.60" width="4.2" height="4.2" fill="#07091a" stroke="#2b2fa8" stroke-opacity="0.3" stroke-width="0.7"/>
<rect x="274.60" y="148.60" width="4.2" height="4.2" fill="#07091a" stroke="#2b2fa8" stroke-opacity="0.3" stroke-width="0.7"/>
<circle cx="258.70" cy="160.10" r="2.4" fill="#19b060" opacity="0.4"/>
<circle cx="258.70" cy="160.10" r="1.9" fill="#0b3f1f" stroke="#030a06" stroke-width="0.95"/>
<circle cx="276.70" cy="160.10" r="2.4" fill="#19b060" opacity="0.4"/>
<circle cx="276.70" cy="160.10" r="1.9" fill="#0b3f1f" stroke="#030a06" stroke-width="0.95"/>
<circle cx="267.80" cy="169.60" r="2.4" fill="#19b060" opacity="0.4"/>
<circle cx="267.80" cy="169.60" r="1.9" fill="#0b3f1f" stroke="#030a06" stroke-width="0.95"/>
<rect x="265.70" y="158.00" width="4.2" height="4.2" fill="#07091a" stroke="#2b2fa8" stroke-opacity="0.3" stroke-width="0.7"/>
<rect x="265.70" y="176.70" width="4.2" height="4.2" fill="#07091a" stroke="#2b2fa8" stroke-opacity="0.3" stroke-width="0.7"/>
<rect x="265.70" y="185.60" width="4.2" height="4.2" fill="#07091a" stroke="#2b2fa8" stroke-opacity="0.3" stroke-width="0.7"/>
<circle cx="258.70" cy="141.50" r="2.1" fill="#fbe60a" stroke="#3a3405" stroke-width="0.8"/>
<circle cx="276.70" cy="141.50" r="2.1" fill="#fbe60a" stroke="#3a3405" stroke-width="0.8"/>
<path d="M275.20 187.70L278.60 185.80L278.60 189.60Z" fill="#b00e1a" stroke="#30060a" stroke-width="0.6"/>
<line x1="266.9" y1="193.0" x2="260.3" y2="222.2" stroke="#0a0e18" stroke-width="1.15" stroke-linecap="round"/>
<text x="253.9" y="227.7" font-family="'Liberation Sans', sans-serif" font-weight="700" font-size="5.3" fill="#05060c" stroke="#05060c" stroke-width="0.3" textLength="13.0" lengthAdjust="spacingAndGlyphs">22.02</text>
<line x1="297.2" y1="138.0" x2="297.2" y2="146.0" stroke="#b98ad8" stroke-width="1.0" stroke-dasharray="1.5 0.5"/>
<line x1="297.2" y1="146.0" x2="297.2" y2="154.1" stroke="#39c6e6" stroke-width="1.0" stroke-dasharray="1.5 0.5"/>
<line x1="288.8" y1="154.1" x2="304.5" y2="154.1" stroke="#3f9fe6" stroke-width="0.85"/>
<path d="M290.8 166.0L295.0 174.0L299.4 166.0" fill="none" stroke="#0a2a18" stroke-width="1.0"/>
<line x1="290.8" y1="158.1" x2="290.8" y2="166.0" stroke="#58b4ea" stroke-width="1.0" stroke-dasharray="1.5 0.5"/>
<line x1="299.4" y1="158.1" x2="299.4" y2="166.0" stroke="#58b4ea" stroke-width="1.0" stroke-dasharray="1.5 0.5"/>
<line x1="295.0" y1="174.0" x2="295.0" y2="182.0" stroke="#35c0c8" stroke-width="1.0" stroke-dasharray="1.5 0.5"/>
<line x1="295.0" y1="182.0" x2="295.0" y2="190.0" stroke="#5a8cf0" stroke-width="1.0" stroke-dasharray="1.5 0.5"/>
<line x1="295.0" y1="190.0" x2="303.5" y2="190.0" stroke="#7cc6ee" stroke-width="0.9" stroke-dasharray="1.2 0.8"/>
<rect x="288.95" y="156.25" width="3.7" height="3.7" fill="#07091a" stroke="#2b2fa8" stroke-opacity="0.3" stroke-width="0.7"/>
<rect x="297.55" y="156.25" width="3.7" height="3.7" fill="#07091a" stroke="#2b2fa8" stroke-opacity="0.3" stroke-width="0.7"/>
<circle cx="290.80" cy="166.00" r="2.2" fill="#19b060" opacity="0.4"/>
<circle cx="290.80" cy="166.00" r="1.7" fill="#0b3f1f" stroke="#030a06" stroke-width="0.95"/>
<circle cx="299.40" cy="166.00" r="2.2" fill="#19b060" opacity="0.4"/>
<circle cx="299.40" cy="166.00" r="1.7" fill="#0b3f1f" stroke="#030a06" stroke-width="0.95"/>
<circle cx="295.00" cy="174.00" r="2.2" fill="#19b060" opacity="0.4"/>
<circle cx="295.00" cy="174.00" r="1.7" fill="#0b3f1f" stroke="#030a06" stroke-width="0.95"/>
<rect x="293.15" y="180.15" width="3.7" height="3.7" fill="#07091a" stroke="#2b2fa8" stroke-opacity="0.3" stroke-width="0.7"/>
<rect x="293.15" y="188.15" width="3.7" height="3.7" fill="#07091a" stroke="#2b2fa8" stroke-opacity="0.3" stroke-width="0.7"/>
<path d="M301.91 190.00L304.91 188.33L304.91 191.67Z" fill="#b00e1a" stroke="#30060a" stroke-width="0.6"/>
<circle cx="297.20" cy="146.00" r="1.9" fill="#fbe60a" stroke="#3a3405" stroke-width="0.8"/>
<path d="M297.20 136.48L298.72 138.00L297.20 139.52L295.68 138.00Z" fill="#3a0638" stroke="#14020f" stroke-width="0.5"/>
<line x1="293.6" y1="195.0" x2="284.4" y2="211.1" stroke="#0a0e18" stroke-width="1.15" stroke-linecap="round"/>
<text x="276.3" y="217.0" font-family="'Liberation Sans', sans-serif" font-weight="700" font-size="5.3" fill="#05060c" stroke="#05060c" stroke-width="0.3" textLength="13.5" lengthAdjust="spacingAndGlyphs">22.92</text>
<line x1="337.6" y1="88.7" x2="337.6" y2="96.7" stroke="#b98ad8" stroke-width="1.0" stroke-dasharray="1.5 0.5"/>
<line x1="329.6" y1="96.7" x2="345.8" y2="96.7" stroke="#3f9fe6" stroke-width="0.85"/>
<path d="M331.6 117.8L335.8 125.7L340.0 117.8" fill="none" stroke="#0a2a18" stroke-width="1.0"/>
<line x1="331.6" y1="109.2" x2="331.6" y2="117.8" stroke="#58b4ea" stroke-width="1.0" stroke-dasharray="1.5 0.5"/>
<line x1="340.0" y1="109.2" x2="340.0" y2="117.8" stroke="#58b4ea" stroke-width="1.0" stroke-dasharray="1.5 0.5"/>
<line x1="331.6" y1="101.1" x2="331.6" y2="109.2" stroke="#39c6e6" stroke-width="1.0" stroke-dasharray="1.5 0.5"/>
<line x1="340.0" y1="101.1" x2="340.0" y2="109.2" stroke="#39c6e6" stroke-width="1.0" stroke-dasharray="1.5 0.5"/>
<line x1="335.8" y1="125.7" x2="335.8" y2="134.1" stroke="#35c0c8" stroke-width="1.0" stroke-dasharray="1.5 0.5"/>
<line x1="335.8" y1="134.1" x2="335.8" y2="142.5" stroke="#5a8cf0" stroke-width="1.0" stroke-dasharray="1.5 0.5"/>
<line x1="335.8" y1="142.5" x2="344.2" y2="142.5" stroke="#7cc6ee" stroke-width="0.9" stroke-dasharray="1.2 0.8"/>
<rect x="329.75" y="107.35" width="3.7" height="3.7" fill="#07091a" stroke="#2b2fa8" stroke-opacity="0.3" stroke-width="0.7"/>
<rect x="338.15" y="107.35" width="3.7" height="3.7" fill="#07091a" stroke="#2b2fa8" stroke-opacity="0.3" stroke-width="0.7"/>
<circle cx="331.60" cy="117.80" r="2.2" fill="#19b060" opacity="0.4"/>
<circle cx="331.60" cy="117.80" r="1.7" fill="#0b3f1f" stroke="#030a06" stroke-width="0.95"/>
<circle cx="340.00" cy="117.80" r="2.2" fill="#19b060" opacity="0.4"/>
<circle cx="340.00" cy="117.80" r="1.7" fill="#0b3f1f" stroke="#030a06" stroke-width="0.95"/>
<circle cx="335.80" cy="125.70" r="2.2" fill="#19b060" opacity="0.4"/>
<circle cx="335.80" cy="125.70" r="1.7" fill="#0b3f1f" stroke="#030a06" stroke-width="0.95"/>
<rect x="333.95" y="132.25" width="3.7" height="3.7" fill="#07091a" stroke="#2b2fa8" stroke-opacity="0.3" stroke-width="0.7"/>
<rect x="333.95" y="140.65" width="3.7" height="3.7" fill="#07091a" stroke="#2b2fa8" stroke-opacity="0.3" stroke-width="0.7"/>
<circle cx="331.60" cy="101.10" r="1.9000000000000001" fill="#fbe60a" stroke="#3a3405" stroke-width="0.8"/>
<circle cx="340.00" cy="101.10" r="1.9000000000000001" fill="#fbe60a" stroke="#3a3405" stroke-width="0.8"/>
<path d="M342.61 142.50L345.61 140.83L345.61 144.17Z" fill="#b00e1a" stroke="#30060a" stroke-width="0.6"/>
<path d="M337.60 87.18L339.12 88.70L337.60 90.22L336.08 88.70Z" fill="#3a0638" stroke="#14020f" stroke-width="0.5"/>
<line x1="335.2" y1="147.8" x2="331.2" y2="165.8" stroke="#0a0e18" stroke-width="1.15" stroke-linecap="round"/>
<text x="326.7" y="171.7" font-family="'Liberation Sans', sans-serif" font-weight="700" font-size="5.3" fill="#05060c" stroke="#05060c" stroke-width="0.3" textLength="13.5" lengthAdjust="spacingAndGlyphs">24.87</text>
<line x1="358.9" y1="170.0" x2="358.9" y2="179.1" stroke="#b98ad8" stroke-width="1.0" stroke-dasharray="1.5 0.5"/>
<line x1="349.2" y1="179.1" x2="368.7" y2="179.1" stroke="#3f9fe6" stroke-width="0.85"/>
<path d="M350.6 199.2L358.9 207.6L367.3 199.2" fill="none" stroke="#0a2a18" stroke-width="1.0"/>
<line x1="350.6" y1="191.1" x2="350.6" y2="199.2" stroke="#58b4ea" stroke-width="1.0" stroke-dasharray="1.5 0.5"/>
<line x1="367.3" y1="191.1" x2="367.3" y2="199.2" stroke="#58b4ea" stroke-width="1.0" stroke-dasharray="1.5 0.5"/>
<line x1="350.6" y1="183.1" x2="350.6" y2="191.1" stroke="#39c6e6" stroke-width="1.0" stroke-dasharray="1.5 0.5"/>
<line x1="367.3" y1="183.1" x2="367.3" y2="191.1" stroke="#39c6e6" stroke-width="1.0" stroke-dasharray="1.5 0.5"/>
<line x1="358.9" y1="207.6" x2="358.9" y2="215.7" stroke="#35c0c8" stroke-width="1.0" stroke-dasharray="1.5 0.5"/>
<line x1="358.9" y1="215.7" x2="358.9" y2="224.1" stroke="#5a8cf0" stroke-width="1.0" stroke-dasharray="1.5 0.5"/>
<line x1="358.9" y1="199.2" x2="358.9" y2="207.6" stroke="#35c0c8" stroke-width="1.0" stroke-dasharray="1.5 0.5"/>
<line x1="358.9" y1="224.1" x2="367.9" y2="224.1" stroke="#7cc6ee" stroke-width="0.9" stroke-dasharray="1.2 0.8"/>
<rect x="348.75" y="189.25" width="3.7" height="3.7" fill="#07091a" stroke="#2b2fa8" stroke-opacity="0.3" stroke-width="0.7"/>
<rect x="365.45" y="189.25" width="3.7" height="3.7" fill="#07091a" stroke="#2b2fa8" stroke-opacity="0.3" stroke-width="0.7"/>
<circle cx="350.60" cy="199.20" r="2.2" fill="#19b060" opacity="0.4"/>
<circle cx="350.60" cy="199.20" r="1.7" fill="#0b3f1f" stroke="#030a06" stroke-width="0.95"/>
<circle cx="367.30" cy="199.20" r="2.2" fill="#19b060" opacity="0.4"/>
<circle cx="367.30" cy="199.20" r="1.7" fill="#0b3f1f" stroke="#030a06" stroke-width="0.95"/>
<circle cx="358.90" cy="207.60" r="2.2" fill="#19b060" opacity="0.4"/>
<circle cx="358.90" cy="207.60" r="1.7" fill="#0b3f1f" stroke="#030a06" stroke-width="0.95"/>
<rect x="357.05" y="197.35" width="3.7" height="3.7" fill="#07091a" stroke="#2b2fa8" stroke-opacity="0.3" stroke-width="0.7"/>
<rect x="357.05" y="213.85" width="3.7" height="3.7" fill="#07091a" stroke="#2b2fa8" stroke-opacity="0.3" stroke-width="0.7"/>
<rect x="357.05" y="222.25" width="3.7" height="3.7" fill="#07091a" stroke="#2b2fa8" stroke-opacity="0.3" stroke-width="0.7"/>
<circle cx="350.60" cy="183.10" r="1.9000000000000001" fill="#fbe60a" stroke="#3a3405" stroke-width="0.8"/>
<circle cx="367.30" cy="183.10" r="1.9000000000000001" fill="#fbe60a" stroke="#3a3405" stroke-width="0.8"/>
<path d="M366.31 224.10L369.31 222.43L369.31 225.77Z" fill="#b00e1a" stroke="#30060a" stroke-width="0.6"/>
<path d="M358.90 168.48L360.42 170.00L358.90 171.52L357.38 170.00Z" fill="#3a0638" stroke="#14020f" stroke-width="0.5"/>
<line x1="356.3" y1="228.5" x2="348.2" y2="245.7" stroke="#0a0e18" stroke-width="1.15" stroke-linecap="round"/>
<text x="341.2" y="251.7" font-family="'Liberation Sans', sans-serif" font-weight="700" font-size="5.3" fill="#05060c" stroke="#05060c" stroke-width="0.3" textLength="13.1" lengthAdjust="spacingAndGlyphs">25.42</text>
<path d="M388.0 220.0L392.4 228.7L396.7 220.0" fill="none" stroke="#0a2a18" stroke-width="1.0"/>
<line x1="388.0" y1="211.4" x2="388.0" y2="220.0" stroke="#58b4ea" stroke-width="1.0" stroke-dasharray="1.5 0.5"/>
<line x1="396.7" y1="211.4" x2="396.7" y2="220.0" stroke="#58b4ea" stroke-width="1.0" stroke-dasharray="1.5 0.5"/>
<line x1="388.0" y1="202.7" x2="388.0" y2="211.4" stroke="#39c6e6" stroke-width="1.0" stroke-dasharray="1.5 0.5"/>
<line x1="396.7" y1="202.7" x2="396.7" y2="211.4" stroke="#39c6e6" stroke-width="1.0" stroke-dasharray="1.5 0.5"/>
<line x1="388.0" y1="194.3" x2="388.0" y2="202.7" stroke="#b98ad8" stroke-width="1.0" stroke-dasharray="1.5 0.5"/>
<line x1="396.7" y1="194.3" x2="396.7" y2="202.7" stroke="#b98ad8" stroke-width="1.0" stroke-dasharray="1.5 0.5"/>
<line x1="392.4" y1="228.7" x2="392.4" y2="237.1" stroke="#35c0c8" stroke-width="1.0" stroke-dasharray="1.5 0.5"/>
<line x1="392.4" y1="237.1" x2="392.4" y2="245.7" stroke="#5a8cf0" stroke-width="1.0" stroke-dasharray="1.5 0.5"/>
<line x1="392.4" y1="245.7" x2="401.1" y2="245.7" stroke="#7cc6ee" stroke-width="0.9" stroke-dasharray="1.2 0.8"/>
<rect x="386.15" y="209.55" width="3.7" height="3.7" fill="#07091a" stroke="#2b2fa8" stroke-opacity="0.3" stroke-width="0.7"/>
<rect x="394.85" y="209.55" width="3.7" height="3.7" fill="#07091a" stroke="#2b2fa8" stroke-opacity="0.3" stroke-width="0.7"/>
<circle cx="388.00" cy="220.00" r="2.2" fill="#19b060" opacity="0.4"/>
<circle cx="388.00" cy="220.00" r="1.7" fill="#0b3f1f" stroke="#030a06" stroke-width="0.95"/>
<circle cx="396.70" cy="220.00" r="2.2" fill="#19b060" opacity="0.4"/>
<circle cx="396.70" cy="220.00" r="1.7" fill="#0b3f1f" stroke="#030a06" stroke-width="0.95"/>
<circle cx="392.40" cy="228.70" r="2.2" fill="#19b060" opacity="0.4"/>
<circle cx="392.40" cy="228.70" r="1.7" fill="#0b3f1f" stroke="#030a06" stroke-width="0.95"/>
<rect x="390.55" y="235.25" width="3.7" height="3.7" fill="#07091a" stroke="#2b2fa8" stroke-opacity="0.3" stroke-width="0.7"/>
<rect x="390.55" y="243.85" width="3.7" height="3.7" fill="#07091a" stroke="#2b2fa8" stroke-opacity="0.3" stroke-width="0.7"/>
<circle cx="388.00" cy="202.70" r="1.9000000000000001" fill="#fbe60a" stroke="#3a3405" stroke-width="0.8"/>
<circle cx="396.70" cy="202.70" r="1.9000000000000001" fill="#fbe60a" stroke="#3a3405" stroke-width="0.8"/>
<path d="M388.00 192.86L389.44 194.30L388.00 195.74L386.56 194.30Z" fill="#3a0638" stroke="#14020f" stroke-width="0.5"/>
<path d="M396.70 192.86L398.14 194.30L396.70 195.74L395.26 194.30Z" fill="#3a0638" stroke="#14020f" stroke-width="0.5"/>
<path d="M399.51 245.70L402.51 244.03L402.51 247.37Z" fill="#b00e1a" stroke="#30060a" stroke-width="0.6"/>
<line x1="394.1" y1="249.5" x2="411.1" y2="266.8" stroke="#0a0e18" stroke-width="1.15" stroke-linecap="round"/>
<path d="M421.4 217.6L429.8 226.1L438.2 217.6" fill="none" stroke="#0a2a18" stroke-width="1.0"/>
<line x1="421.4" y1="209.2" x2="421.4" y2="217.6" stroke="#58b4ea" stroke-width="1.0" stroke-dasharray="1.5 0.5"/>
<line x1="438.2" y1="209.2" x2="438.2" y2="217.6" stroke="#58b4ea" stroke-width="1.0" stroke-dasharray="1.5 0.5"/>
<line x1="421.4" y1="200.7" x2="421.4" y2="209.2" stroke="#39c6e6" stroke-width="1.0" stroke-dasharray="1.5 0.5"/>
<line x1="438.2" y1="200.7" x2="438.2" y2="209.2" stroke="#39c6e6" stroke-width="1.0" stroke-dasharray="1.5 0.5"/>
<line x1="421.4" y1="192.1" x2="421.4" y2="200.7" stroke="#b98ad8" stroke-width="1.0" stroke-dasharray="1.5 0.5"/>
<line x1="438.2" y1="192.1" x2="438.2" y2="200.7" stroke="#b98ad8" stroke-width="1.0" stroke-dasharray="1.5 0.5"/>
<line x1="429.8" y1="226.1" x2="429.8" y2="234.1" stroke="#35c0c8" stroke-width="1.0" stroke-dasharray="1.5 0.5"/>
<line x1="429.8" y1="234.1" x2="429.8" y2="242.5" stroke="#5a8cf0" stroke-width="1.0" stroke-dasharray="1.5 0.5"/>
<line x1="429.8" y1="217.6" x2="429.8" y2="226.1" stroke="#35c0c8" stroke-width="1.0" stroke-dasharray="1.5 0.5"/>
<line x1="429.8" y1="242.5" x2="437.8" y2="242.5" stroke="#7cc6ee" stroke-width="0.9" stroke-dasharray="1.2 0.8"/>
<rect x="419.55" y="207.35" width="3.7" height="3.7" fill="#07091a" stroke="#2b2fa8" stroke-opacity="0.3" stroke-width="0.7"/>
<rect x="436.35" y="207.35" width="3.7" height="3.7" fill="#07091a" stroke="#2b2fa8" stroke-opacity="0.3" stroke-width="0.7"/>
<circle cx="421.40" cy="217.60" r="2.2" fill="#19b060" opacity="0.4"/>
<circle cx="421.40" cy="217.60" r="1.7" fill="#0b3f1f" stroke="#030a06" stroke-width="0.95"/>
<circle cx="438.20" cy="217.60" r="2.2" fill="#19b060" opacity="0.4"/>
<circle cx="438.20" cy="217.60" r="1.7" fill="#0b3f1f" stroke="#030a06" stroke-width="0.95"/>
<circle cx="429.80" cy="226.10" r="2.2" fill="#19b060" opacity="0.4"/>
<circle cx="429.80" cy="226.10" r="1.7" fill="#0b3f1f" stroke="#030a06" stroke-width="0.95"/>
<rect x="427.95" y="215.75" width="3.7" height="3.7" fill="#07091a" stroke="#2b2fa8" stroke-opacity="0.3" stroke-width="0.7"/>
<rect x="427.95" y="232.25" width="3.7" height="3.7" fill="#07091a" stroke="#2b2fa8" stroke-opacity="0.3" stroke-width="0.7"/>
<rect x="427.95" y="240.65" width="3.7" height="3.7" fill="#07091a" stroke="#2b2fa8" stroke-opacity="0.3" stroke-width="0.7"/>
<circle cx="421.40" cy="200.70" r="1.9000000000000001" fill="#fbe60a" stroke="#3a3405" stroke-width="0.8"/>
<circle cx="438.20" cy="200.70" r="1.9000000000000001" fill="#fbe60a" stroke="#3a3405" stroke-width="0.8"/>
<path d="M421.40 190.66L422.84 192.10L421.40 193.54L419.96 192.10Z" fill="#3a0638" stroke="#14020f" stroke-width="0.5"/>
<path d="M438.20 190.66L439.64 192.10L438.20 193.54L436.76 192.10Z" fill="#3a0638" stroke="#14020f" stroke-width="0.5"/>
<path d="M436.21 242.50L439.21 240.83L439.21 244.17Z" fill="#b00e1a" stroke="#30060a" stroke-width="0.6"/>
<line x1="427.8" y1="246.7" x2="412.7" y2="255.2" stroke="#0a0e18" stroke-width="1.15" stroke-linecap="round"/>
<text x="408.1" y="260.1" font-family="'Liberation Sans', sans-serif" font-weight="700" font-size="5.3" fill="#05060c" stroke="#05060c" stroke-width="0.3" textLength="13.1" lengthAdjust="spacingAndGlyphs">28.03</text>
<line x1="66.3" y1="199.7" x2="66.3" y2="209.7" stroke="#58b4ea" stroke-width="1.0" stroke-dasharray="1.5 0.5"/>
<line x1="57.1" y1="209.7" x2="75.8" y2="209.7" stroke="#5a78d8" stroke-width="0.9"/>
<path d="M59.1 213.7L64.1 223.2L69.2 213.7" fill="none" stroke="#0a2a18" stroke-width="1.0"/>
<line x1="64.1" y1="223.2" x2="64.1" y2="233.0" stroke="#35c0c8" stroke-width="1.0" stroke-dasharray="1.5 0.5"/>
<line x1="64.1" y1="233.0" x2="64.1" y2="242.7" stroke="#5a8cf0" stroke-width="1.0" stroke-dasharray="1.5 0.5"/>
<line x1="64.1" y1="242.7" x2="74.2" y2="242.7" stroke="#7cc6ee" stroke-width="0.9" stroke-dasharray="1.2 0.8"/>
<circle cx="59.10" cy="213.70" r="2.4" fill="#19b060" opacity="0.4"/>
<circle cx="59.10" cy="213.70" r="1.9" fill="#0b3f1f" stroke="#030a06" stroke-width="0.95"/>
<circle cx="69.20" cy="213.70" r="2.4" fill="#19b060" opacity="0.4"/>
<circle cx="69.20" cy="213.70" r="1.9" fill="#0b3f1f" stroke="#030a06" stroke-width="0.95"/>
<circle cx="64.10" cy="223.20" r="2.4" fill="#19b060" opacity="0.4"/>
<circle cx="64.10" cy="223.20" r="1.9" fill="#0b3f1f" stroke="#030a06" stroke-width="0.95"/>
<rect x="62.00" y="230.90" width="4.2" height="4.2" fill="#07091a" stroke="#2b2fa8" stroke-opacity="0.3" stroke-width="0.7"/>
<rect x="62.00" y="240.60" width="4.2" height="4.2" fill="#07091a" stroke="#2b2fa8" stroke-opacity="0.3" stroke-width="0.7"/>
<path d="M72.40 242.70L75.80 240.80L75.80 244.60Z" fill="#b00e1a" stroke="#30060a" stroke-width="0.6"/>
<rect x="64.20" y="197.60" width="4.2" height="4.2" fill="#07091a" stroke="#2b2fa8" stroke-opacity="0.3" stroke-width="0.7"/>
<line x1="64.5" y1="248.7" x2="71.2" y2="262.8" stroke="#0a0e18" stroke-width="1.15" stroke-linecap="round"/>
<path d="M83.4 210.1L88.5 220.6L93.7 210.1" fill="none" stroke="#0a2a18" stroke-width="1.0"/>
<line x1="83.4" y1="199.7" x2="83.4" y2="210.1" stroke="#58b4ea" stroke-width="1.0" stroke-dasharray="1.5 0.5"/>
<line x1="93.7" y1="199.7" x2="93.7" y2="210.1" stroke="#58b4ea" stroke-width="1.0" stroke-dasharray="1.5 0.5"/>
<line x1="88.5" y1="220.6" x2="88.5" y2="230.3" stroke="#35c0c8" stroke-width="1.0" stroke-dasharray="1.5 0.5"/>
<line x1="88.5" y1="230.3" x2="88.5" y2="240.4" stroke="#5a8cf0" stroke-width="1.0" stroke-dasharray="1.5 0.5"/>
<rect x="81.30" y="197.60" width="4.2" height="4.2" fill="#07091a" stroke="#2b2fa8" stroke-opacity="0.3" stroke-width="0.7"/>
<rect x="91.60" y="197.60" width="4.2" height="4.2" fill="#07091a" stroke="#2b2fa8" stroke-opacity="0.3" stroke-width="0.7"/>
<circle cx="83.40" cy="210.10" r="2.4" fill="#19b060" opacity="0.4"/>
<circle cx="83.40" cy="210.10" r="1.9" fill="#0b3f1f" stroke="#030a06" stroke-width="0.95"/>
<circle cx="93.70" cy="210.10" r="2.4" fill="#19b060" opacity="0.4"/>
<circle cx="93.70" cy="210.10" r="1.9" fill="#0b3f1f" stroke="#030a06" stroke-width="0.95"/>
<circle cx="88.50" cy="220.60" r="2.4" fill="#19b060" opacity="0.4"/>
<circle cx="88.50" cy="220.60" r="1.9" fill="#0b3f1f" stroke="#030a06" stroke-width="0.95"/>
<rect x="86.40" y="228.20" width="4.2" height="4.2" fill="#07091a" stroke="#2b2fa8" stroke-opacity="0.3" stroke-width="0.7"/>
<rect x="86.40" y="238.30" width="4.2" height="4.2" fill="#07091a" stroke="#2b2fa8" stroke-opacity="0.3" stroke-width="0.7"/>
<line x1="86.2" y1="245.0" x2="86.2" y2="256.0" stroke="#0a0e18" stroke-width="1.15" stroke-linecap="round"/>
<text x="79.2" y="262.0" font-family="'Liberation Sans', sans-serif" font-weight="700" font-size="5.3" fill="#05060c" stroke="#05060c" stroke-width="0.3" textLength="12.0" lengthAdjust="spacingAndGlyphs">15.25</text>
<text x="30.5" y="21.6" font-family="'DejaVu Sans', 'Liberation Sans', sans-serif" font-size="12.6" font-weight="400" text-anchor="start" fill="#0c0e16" textLength="80.2" lengthAdjust="spacingAndGlyphs" stroke="#0c0e16" stroke-width="0.25">Intensity [%]</text>
<text x="27.8" y="38.8" font-family="'Liberation Serif', serif" font-size="12.6" font-weight="400" text-anchor="start" fill="#0c0e16" textLength="18.9" lengthAdjust="spacingAndGlyphs" stroke="#0c0e16" stroke-width="0.3">100</text>
<text x="39.5" y="274.2" font-family="'Liberation Serif', serif" font-size="12.4" font-weight="400" text-anchor="start" fill="#0c0e16" stroke="#0c0e16" stroke-width="0.3">0</text>
<text x="77.6" y="286.3" font-family="'Liberation Serif', serif" font-size="12.4" font-weight="400" text-anchor="middle" fill="#0c0e16" stroke="#0c0e16" stroke-width="0.3">15</text>
<text x="208.7" y="286.3" font-family="'Liberation Serif', serif" font-size="12.4" font-weight="400" text-anchor="middle" fill="#0c0e16" stroke="#0c0e16" stroke-width="0.3">20</text>
<text x="334.0" y="286.3" font-family="'Liberation Serif', serif" font-size="12.4" font-weight="400" text-anchor="middle" fill="#0c0e16" stroke="#0c0e16" stroke-width="0.3">25</text>
<text x="465.4" y="286.3" font-family="'Liberation Serif', serif" font-size="12.4" font-weight="400" text-anchor="middle" fill="#0c0e16" stroke="#0c0e16" stroke-width="0.3">30</text>
<text x="407.1" y="299.4" font-family="'DejaVu Sans', 'Liberation Sans', sans-serif" font-size="12.3" font-weight="400" text-anchor="start" fill="#0c0e16" textLength="123.2" lengthAdjust="spacingAndGlyphs" stroke="#0c0e16" stroke-width="0.25">Retention time [min]</text>
<line x1="376.9" y1="10.4" x2="376.9" y2="61.3" stroke="#05060c" stroke-width="1.5"/>
<line x1="376.2" y1="60.4" x2="531.8" y2="60.4" stroke="#05060c" stroke-width="1.3"/>
<path d="M377 10.8h-2M377 27.6h-2M377 44.2h-2M377 60.6h-2" stroke="#05060c" stroke-width="0.9"/>
<path d="M408.0 60.4v-2 M438.8 60.4v-2 M469.6 60.4v-2 M500.4 60.4v-2 M531.2 60.4v-2" stroke="#05060c" stroke-width="0.9"/>
<rect x="377.2" y="15.8" width="23.1" height="6.8" fill="#05060c"/>
<rect x="377.2" y="32.3" width="21.7" height="6.8" fill="#05060c"/>
<rect x="377.2" y="48.5" width="132.8" height="6.9" fill="#05060c"/>
<text x="299.9" y="22.6" font-family="'DejaVu Sans', 'Liberation Sans', sans-serif" font-size="9.2" font-weight="400" text-anchor="start" fill="#0c0e16" textLength="75.2" lengthAdjust="spacingAndGlyphs" stroke="#0c0e16" stroke-width="0.25">bisecting GlcNAc</text>
<text x="330.2" y="39.1" font-family="'DejaVu Sans', 'Liberation Sans', sans-serif" font-size="9.2" font-weight="400" text-anchor="start" fill="#0c0e16" textLength="44.8" lengthAdjust="spacingAndGlyphs" stroke="#0c0e16" stroke-width="0.25">sialylation</text>
<text x="320.7" y="54.8" font-family="'DejaVu Sans', 'Liberation Sans', sans-serif" font-size="9.2" font-weight="400" text-anchor="start" fill="#0c0e16" textLength="54.3" lengthAdjust="spacingAndGlyphs" stroke="#0c0e16" stroke-width="0.25">fucosylation</text>
<text x="377.4" y="73.9" font-family="'Liberation Serif', serif" font-size="8.3" font-weight="700" text-anchor="middle" fill="#0e1428">0</text>
<text x="408.2" y="73.9" font-family="'Liberation Serif', serif" font-size="8.3" font-weight="700" text-anchor="middle" fill="#0e1428">20</text>
<text x="439.0" y="73.9" font-family="'Liberation Serif', serif" font-size="8.3" font-weight="700" text-anchor="middle" fill="#0e1428">40</text>
<text x="469.8" y="73.9" font-family="'Liberation Serif', serif" font-size="8.3" font-weight="700" text-anchor="middle" fill="#0e1428">60</text>
<text x="500.6" y="73.9" font-family="'Liberation Serif', serif" font-size="8.3" font-weight="700" text-anchor="middle" fill="#0e1428">80</text>
<text x="531.4" y="73.9" font-family="'Liberation Serif', serif" font-size="8.3" font-weight="700" text-anchor="middle" fill="#0e1428">100</text>
<text x="378.3" y="85.5" font-family="'DejaVu Sans', 'Liberation Sans', sans-serif" font-size="9.4" fill="#0c0e16" stroke="#0c0e16" stroke-width="0.3" textLength="159.6" lengthAdjust="spacingAndGlyphs">Amount of identified <tspan font-style="italic">N</tspan>-glycan [%]</text>
<text x="378.3" y="97.6" font-family="'DejaVu Sans', 'Liberation Sans', sans-serif" font-size="9.4" font-weight="400" text-anchor="start" fill="#0c0e16" textLength="47.3" lengthAdjust="spacingAndGlyphs" stroke="#0c0e16" stroke-width="0.3">structures</text>
</svg>
</body></html>
